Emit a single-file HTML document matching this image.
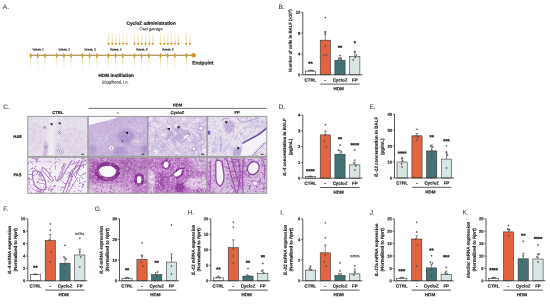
<!DOCTYPE html>
<html><head><meta charset="utf-8"><style>
html,body{margin:0;padding:0;background:#fff;}
svg{display:block;}
text{font-family:"Liberation Sans",Arial,sans-serif;}
</style></head><body>
<svg width="550" height="306" viewBox="0 0 550 306">
<rect width="550" height="306" fill="#fff"/>
<defs><linearGradient id="stemDown" x1="0" y1="0" x2="0" y2="1"><stop offset="0" stop-color="#e2bd68" stop-opacity="0.8"/><stop offset="1" stop-color="#f3e2b8" stop-opacity="0"/></linearGradient><linearGradient id="stemUp" x1="0" y1="0" x2="0" y2="1"><stop offset="0" stop-color="#efd9a0" stop-opacity="0.35"/><stop offset="1" stop-color="#e4c070" stop-opacity="0.7"/></linearGradient></defs>
<text transform="translate(2.80,8.90) rotate(0.05)" font-size="6.5" font-weight="normal" text-anchor="start" fill="#3c3c3c" stroke="#3c3c3c" stroke-width="0.08" >A.</text>
<rect x="108.05" y="33.0" width="1.1" height="10.3" fill="url(#stemUp)"/>
<path d="M107.35 43.0 L109.85 43.0 L108.60 45.4 Z" fill="#cc9a22"/>
<rect x="111.75" y="33.0" width="1.1" height="10.3" fill="url(#stemUp)"/>
<path d="M111.05 43.0 L113.55 43.0 L112.30 45.4 Z" fill="#cc9a22"/>
<rect x="115.35" y="33.0" width="1.1" height="10.3" fill="url(#stemUp)"/>
<path d="M114.65 43.0 L117.15 43.0 L115.90 45.4 Z" fill="#cc9a22"/>
<rect x="119.05" y="33.0" width="1.1" height="10.3" fill="url(#stemUp)"/>
<path d="M118.35 43.0 L120.85 43.0 L119.60 45.4 Z" fill="#cc9a22"/>
<rect x="122.65" y="33.0" width="1.1" height="10.3" fill="url(#stemUp)"/>
<path d="M121.95 43.0 L124.45 43.0 L123.20 45.4 Z" fill="#cc9a22"/>
<rect x="126.25" y="33.0" width="1.1" height="10.3" fill="url(#stemUp)"/>
<path d="M125.55 43.0 L128.05 43.0 L126.80 45.4 Z" fill="#cc9a22"/>
<rect x="133.95" y="33.0" width="1.1" height="10.3" fill="url(#stemUp)"/>
<path d="M133.25 43.0 L135.75 43.0 L134.50 45.4 Z" fill="#cc9a22"/>
<rect x="137.75" y="33.0" width="1.1" height="10.3" fill="url(#stemUp)"/>
<path d="M137.05 43.0 L139.55 43.0 L138.30 45.4 Z" fill="#cc9a22"/>
<rect x="141.25" y="33.0" width="1.1" height="10.3" fill="url(#stemUp)"/>
<path d="M140.55 43.0 L143.05 43.0 L141.80 45.4 Z" fill="#cc9a22"/>
<rect x="145.05" y="33.0" width="1.1" height="10.3" fill="url(#stemUp)"/>
<path d="M144.35 43.0 L146.85 43.0 L145.60 45.4 Z" fill="#cc9a22"/>
<rect x="148.75" y="33.0" width="1.1" height="10.3" fill="url(#stemUp)"/>
<path d="M148.05 43.0 L150.55 43.0 L149.30 45.4 Z" fill="#cc9a22"/>
<rect x="152.25" y="33.0" width="1.1" height="10.3" fill="url(#stemUp)"/>
<path d="M151.55 43.0 L154.05 43.0 L152.80 45.4 Z" fill="#cc9a22"/>
<rect x="159.95" y="33.0" width="1.1" height="10.3" fill="url(#stemUp)"/>
<path d="M159.25 43.0 L161.75 43.0 L160.50 45.4 Z" fill="#cc9a22"/>
<rect x="163.75" y="33.0" width="1.1" height="10.3" fill="url(#stemUp)"/>
<path d="M163.05 43.0 L165.55 43.0 L164.30 45.4 Z" fill="#cc9a22"/>
<rect x="167.25" y="33.0" width="1.1" height="10.3" fill="url(#stemUp)"/>
<path d="M166.55 43.0 L169.05 43.0 L167.80 45.4 Z" fill="#cc9a22"/>
<rect x="170.85" y="33.0" width="1.1" height="10.3" fill="url(#stemUp)"/>
<path d="M170.15 43.0 L172.65 43.0 L171.40 45.4 Z" fill="#cc9a22"/>
<rect x="174.35" y="33.0" width="1.1" height="10.3" fill="url(#stemUp)"/>
<path d="M173.65 43.0 L176.15 43.0 L174.90 45.4 Z" fill="#cc9a22"/>
<rect x="177.95" y="33.0" width="1.1" height="10.3" fill="url(#stemUp)"/>
<path d="M177.25 43.0 L179.75 43.0 L178.50 45.4 Z" fill="#cc9a22"/>
<rect x="185.85" y="33.0" width="1.1" height="10.3" fill="url(#stemUp)"/>
<path d="M185.15 43.0 L187.65 43.0 L186.40 45.4 Z" fill="#cc9a22"/>
<rect x="189.45" y="33.0" width="1.1" height="10.3" fill="url(#stemUp)"/>
<path d="M188.75 43.0 L191.25 43.0 L190.00 45.4 Z" fill="#cc9a22"/>
<line x1="30.5" y1="55.2" x2="193.6" y2="55.2" stroke="#987438" stroke-width="1.1"/>
<rect x="30.20" y="57.2" width="1.0" height="13.5" fill="url(#stemDown)"/>
<path d="M30.70 52.7 L31.70 55.0 L31.45 57.4 L29.95 57.4 L29.70 55.0 Z" fill="#cc9a22"/>
<rect x="37.30" y="57.2" width="1.0" height="13.5" fill="url(#stemDown)"/>
<path d="M37.80 52.7 L38.80 55.0 L38.55 57.4 L37.05 57.4 L36.80 55.0 Z" fill="#cc9a22"/>
<rect x="44.50" y="57.2" width="1.0" height="13.5" fill="url(#stemDown)"/>
<path d="M45.00 52.7 L46.00 55.0 L45.75 57.4 L44.25 57.4 L44.00 55.0 Z" fill="#cc9a22"/>
<rect x="56.20" y="57.2" width="1.0" height="13.5" fill="url(#stemDown)"/>
<path d="M56.70 52.7 L57.70 55.0 L57.45 57.4 L55.95 57.4 L55.70 55.0 Z" fill="#cc9a22"/>
<rect x="63.40" y="57.2" width="1.0" height="13.5" fill="url(#stemDown)"/>
<path d="M63.90 52.7 L64.90 55.0 L64.65 57.4 L63.15 57.4 L62.90 55.0 Z" fill="#cc9a22"/>
<rect x="70.60" y="57.2" width="1.0" height="13.5" fill="url(#stemDown)"/>
<path d="M71.10 52.7 L72.10 55.0 L71.85 57.4 L70.35 57.4 L70.10 55.0 Z" fill="#cc9a22"/>
<rect x="82.00" y="57.2" width="1.0" height="13.5" fill="url(#stemDown)"/>
<path d="M82.50 52.7 L83.50 55.0 L83.25 57.4 L81.75 57.4 L81.50 55.0 Z" fill="#cc9a22"/>
<rect x="89.20" y="57.2" width="1.0" height="13.5" fill="url(#stemDown)"/>
<path d="M89.70 52.7 L90.70 55.0 L90.45 57.4 L88.95 57.4 L88.70 55.0 Z" fill="#cc9a22"/>
<rect x="96.40" y="57.2" width="1.0" height="13.5" fill="url(#stemDown)"/>
<path d="M96.90 52.7 L97.90 55.0 L97.65 57.4 L96.15 57.4 L95.90 55.0 Z" fill="#cc9a22"/>
<rect x="107.80" y="57.2" width="1.0" height="13.5" fill="url(#stemDown)"/>
<path d="M108.30 52.7 L109.30 55.0 L109.05 57.4 L107.55 57.4 L107.30 55.0 Z" fill="#cc9a22"/>
<rect x="115.00" y="57.2" width="1.0" height="13.5" fill="url(#stemDown)"/>
<path d="M115.50 52.7 L116.50 55.0 L116.25 57.4 L114.75 57.4 L114.50 55.0 Z" fill="#cc9a22"/>
<rect x="122.20" y="57.2" width="1.0" height="13.5" fill="url(#stemDown)"/>
<path d="M122.70 52.7 L123.70 55.0 L123.45 57.4 L121.95 57.4 L121.70 55.0 Z" fill="#cc9a22"/>
<rect x="133.90" y="57.2" width="1.0" height="13.5" fill="url(#stemDown)"/>
<path d="M134.40 52.7 L135.40 55.0 L135.15 57.4 L133.65 57.4 L133.40 55.0 Z" fill="#cc9a22"/>
<rect x="141.10" y="57.2" width="1.0" height="13.5" fill="url(#stemDown)"/>
<path d="M141.60 52.7 L142.60 55.0 L142.35 57.4 L140.85 57.4 L140.60 55.0 Z" fill="#cc9a22"/>
<rect x="148.40" y="57.2" width="1.0" height="13.5" fill="url(#stemDown)"/>
<path d="M148.90 52.7 L149.90 55.0 L149.65 57.4 L148.15 57.4 L147.90 55.0 Z" fill="#cc9a22"/>
<rect x="160.00" y="57.2" width="1.0" height="13.5" fill="url(#stemDown)"/>
<path d="M160.50 52.7 L161.50 55.0 L161.25 57.4 L159.75 57.4 L159.50 55.0 Z" fill="#cc9a22"/>
<rect x="167.10" y="57.2" width="1.0" height="13.5" fill="url(#stemDown)"/>
<path d="M167.60 52.7 L168.60 55.0 L168.35 57.4 L166.85 57.4 L166.60 55.0 Z" fill="#cc9a22"/>
<rect x="174.40" y="57.2" width="1.0" height="13.5" fill="url(#stemDown)"/>
<path d="M174.90 52.7 L175.90 55.0 L175.65 57.4 L174.15 57.4 L173.90 55.0 Z" fill="#cc9a22"/>
<rect x="185.90" y="57.2" width="1.0" height="13.5" fill="url(#stemDown)"/>
<path d="M186.40 52.7 L187.40 55.0 L187.15 57.4 L185.65 57.4 L185.40 55.0 Z" fill="#cc9a22"/>
<circle cx="193.6" cy="55.2" r="2.25" fill="#c8952a"/>
<text transform="translate(38.20,50.80) rotate(0.05)" font-size="3.45" font-weight="normal" text-anchor="middle" fill="#222" stroke="#222" stroke-width="0.12" >Week 1</text>
<text transform="translate(64.20,50.80) rotate(0.05)" font-size="3.45" font-weight="normal" text-anchor="middle" fill="#222" stroke="#222" stroke-width="0.12" >Week 2</text>
<text transform="translate(90.10,50.80) rotate(0.05)" font-size="3.45" font-weight="normal" text-anchor="middle" fill="#222" stroke="#222" stroke-width="0.12" >Week 3</text>
<text transform="translate(115.80,50.80) rotate(0.05)" font-size="3.45" font-weight="normal" text-anchor="middle" fill="#222" stroke="#222" stroke-width="0.12" >Week 4</text>
<text transform="translate(141.90,50.80) rotate(0.05)" font-size="3.45" font-weight="normal" text-anchor="middle" fill="#222" stroke="#222" stroke-width="0.12" >Week 5</text>
<text transform="translate(167.90,50.80) rotate(0.05)" font-size="3.45" font-weight="normal" text-anchor="middle" fill="#222" stroke="#222" stroke-width="0.12" >Week 6</text>
<text transform="translate(151.20,24.80) rotate(0.05)" font-size="4.7" font-weight="bold" text-anchor="middle" fill="#111" stroke="#111" stroke-width="0.16" >CycloZ administration</text>
<text transform="translate(151.20,30.20) rotate(0.05)" font-size="4.25" font-weight="normal" text-anchor="middle" fill="#222" stroke="#222" stroke-width="0.08" >Oral gavage</text>
<text transform="translate(116.20,77.00) rotate(0.05)" font-size="4.7" font-weight="bold" text-anchor="middle" fill="#111" stroke="#111" stroke-width="0.16" >HDM instillation</text>
<text transform="translate(115.30,83.40) rotate(0.05)" font-size="4.0" font-weight="normal" text-anchor="middle" fill="#222" stroke="#222" stroke-width="0.08" >50μg/head, i.n.</text>
<text transform="translate(192.30,64.60) rotate(0.05)" font-size="4.9" font-weight="bold" text-anchor="start" fill="#222" stroke="#222" stroke-width="0.16" >Endpoint</text>
<text transform="translate(278.50,9.10) rotate(0.05)" font-size="6.5" font-weight="normal" text-anchor="start" fill="#3c3c3c" stroke="#3c3c3c" stroke-width="0.08" >B.</text>
<line x1="302.80" y1="12.30" x2="302.80" y2="74.80" stroke="#3a3a3a" stroke-width="0.85"/>
<line x1="301.10" y1="74.80" x2="302.80" y2="74.80" stroke="#3a3a3a" stroke-width="0.75"/>
<text transform="translate(300.40,76.30) rotate(0.05)" font-size="4.1" font-weight="bold" text-anchor="end" fill="#222" stroke="#222" stroke-width="0.16" >0</text>
<line x1="301.10" y1="53.97" x2="302.80" y2="53.97" stroke="#3a3a3a" stroke-width="0.75"/>
<text transform="translate(300.40,55.47) rotate(0.05)" font-size="4.1" font-weight="bold" text-anchor="end" fill="#222" stroke="#222" stroke-width="0.16" >4</text>
<line x1="301.10" y1="33.13" x2="302.80" y2="33.13" stroke="#3a3a3a" stroke-width="0.75"/>
<text transform="translate(300.40,34.63) rotate(0.05)" font-size="4.1" font-weight="bold" text-anchor="end" fill="#222" stroke="#222" stroke-width="0.16" >8</text>
<line x1="301.10" y1="12.30" x2="302.80" y2="12.30" stroke="#3a3a3a" stroke-width="0.75"/>
<text transform="translate(300.40,13.80) rotate(0.05)" font-size="4.1" font-weight="bold" text-anchor="end" fill="#222" stroke="#222" stroke-width="0.16" >12</text>
<rect x="305.30" y="71.10" width="10.20" height="3.70" fill="#ffffff" stroke="#2a2a2a" stroke-width="0.55"/>
<circle cx="308.90" cy="70.60" r="0.65" fill="#666" stroke="#333" stroke-width="0.35"/>
<circle cx="310.40" cy="70.30" r="0.65" fill="#666" stroke="#333" stroke-width="0.35"/>
<circle cx="311.90" cy="70.60" r="0.65" fill="#666" stroke="#333" stroke-width="0.35"/>
<circle cx="313.20" cy="70.80" r="0.65" fill="#666" stroke="#333" stroke-width="0.35"/>
<text transform="translate(310.40,65.40) rotate(0.05)" font-size="5.6" font-weight="bold" text-anchor="middle" fill="#1a1a1a" stroke="#1a1a1a" stroke-width="0.24" >**</text>
<rect x="320.20" y="40.20" width="10.20" height="34.60" fill="#e2643f" stroke="#2a2a2a" stroke-width="0.55"/>
<line x1="325.30" y1="31.60" x2="325.30" y2="40.20" stroke="#333" stroke-width="0.55"/>
<line x1="324.00" y1="31.60" x2="326.60" y2="31.60" stroke="#333" stroke-width="0.55"/>
<circle cx="325.30" cy="17.40" r="0.65" fill="#666" stroke="#333" stroke-width="0.35"/>
<circle cx="325.30" cy="32.50" r="0.65" fill="#666" stroke="#333" stroke-width="0.35"/>
<circle cx="325.30" cy="34.50" r="0.65" fill="#666" stroke="#333" stroke-width="0.35"/>
<circle cx="325.30" cy="46.00" r="0.65" fill="#666" stroke="#333" stroke-width="0.35"/>
<circle cx="324.10" cy="55.00" r="0.65" fill="#666" stroke="#333" stroke-width="0.35"/>
<circle cx="326.50" cy="55.00" r="0.65" fill="#666" stroke="#333" stroke-width="0.35"/>
<rect x="334.90" y="60.30" width="10.20" height="14.50" fill="#437375" stroke="#2a2a2a" stroke-width="0.55"/>
<line x1="340.00" y1="57.80" x2="340.00" y2="60.30" stroke="#333" stroke-width="0.55"/>
<line x1="338.70" y1="57.80" x2="341.30" y2="57.80" stroke="#333" stroke-width="0.55"/>
<circle cx="340.00" cy="55.50" r="0.65" fill="#666" stroke="#333" stroke-width="0.35"/>
<circle cx="338.50" cy="59.00" r="0.65" fill="#666" stroke="#333" stroke-width="0.35"/>
<circle cx="341.20" cy="59.00" r="0.65" fill="#666" stroke="#333" stroke-width="0.35"/>
<circle cx="340.50" cy="58.50" r="0.65" fill="#666" stroke="#333" stroke-width="0.35"/>
<text transform="translate(340.00,49.60) rotate(0.05)" font-size="5.6" font-weight="bold" text-anchor="middle" fill="#1a1a1a" stroke="#1a1a1a" stroke-width="0.24" >**</text>
<rect x="349.70" y="56.40" width="10.20" height="18.40" fill="#d7e5e5" stroke="#2a2a2a" stroke-width="0.55"/>
<line x1="354.80" y1="52.20" x2="354.80" y2="56.40" stroke="#333" stroke-width="0.55"/>
<line x1="353.50" y1="52.20" x2="356.10" y2="52.20" stroke="#333" stroke-width="0.55"/>
<circle cx="354.80" cy="51.50" r="0.65" fill="#666" stroke="#333" stroke-width="0.35"/>
<circle cx="356.30" cy="55.00" r="0.65" fill="#666" stroke="#333" stroke-width="0.35"/>
<circle cx="353.30" cy="60.00" r="0.65" fill="#666" stroke="#333" stroke-width="0.35"/>
<circle cx="355.30" cy="57.50" r="0.65" fill="#666" stroke="#333" stroke-width="0.35"/>
<text transform="translate(354.80,44.90) rotate(0.05)" font-size="5.6" font-weight="bold" text-anchor="middle" fill="#1a1a1a" stroke="#1a1a1a" stroke-width="0.24" >*</text>
<line x1="302.80" y1="74.80" x2="362.30" y2="74.80" stroke="#3a3a3a" stroke-width="0.85"/>
<text transform="translate(310.40,81.40) rotate(0.05)" font-size="4.4" font-weight="bold" text-anchor="middle" fill="#222" stroke="#222" stroke-width="0.16" >CTRL</text>
<text transform="translate(325.30,81.40) rotate(0.05)" font-size="4.4" font-weight="bold" text-anchor="middle" fill="#222" stroke="#222" stroke-width="0.16" >-</text>
<text transform="translate(340.00,81.40) rotate(0.05)" font-size="4.4" font-weight="bold" text-anchor="middle" fill="#222" stroke="#222" stroke-width="0.16" >CycloZ</text>
<text transform="translate(354.80,81.40) rotate(0.05)" font-size="4.4" font-weight="bold" text-anchor="middle" fill="#222" stroke="#222" stroke-width="0.16" >FP</text>
<line x1="320.20" y1="84.10" x2="359.60" y2="84.10" stroke="#222" stroke-width="0.75"/>
<text transform="translate(338.60,90.30) rotate(0.05)" font-size="4.55" font-weight="bold" text-anchor="middle" fill="#222" stroke="#222" stroke-width="0.16" >HDM</text>
<text transform="translate(291.79,40.60) rotate(-89.95)" font-size="4.3" font-weight="bold" text-anchor="middle" fill="#222" stroke="#222" stroke-width="0.14">Number of cells in BALF (x10<tspan font-size="2.9" dy="-1.5">5</tspan><tspan dy="1.5">)</tspan></text>
<text transform="translate(278.50,109.10) rotate(0.05)" font-size="6.5" font-weight="normal" text-anchor="start" fill="#3c3c3c" stroke="#3c3c3c" stroke-width="0.08" >D.</text>
<line x1="302.80" y1="115.00" x2="302.80" y2="178.20" stroke="#3a3a3a" stroke-width="0.85"/>
<line x1="301.10" y1="178.20" x2="302.80" y2="178.20" stroke="#3a3a3a" stroke-width="0.75"/>
<text transform="translate(300.40,179.70) rotate(0.05)" font-size="4.1" font-weight="bold" text-anchor="end" fill="#222" stroke="#222" stroke-width="0.16" >0</text>
<line x1="301.10" y1="162.40" x2="302.80" y2="162.40" stroke="#3a3a3a" stroke-width="0.75"/>
<text transform="translate(300.40,163.90) rotate(0.05)" font-size="4.1" font-weight="bold" text-anchor="end" fill="#222" stroke="#222" stroke-width="0.16" >1</text>
<line x1="301.10" y1="146.60" x2="302.80" y2="146.60" stroke="#3a3a3a" stroke-width="0.75"/>
<text transform="translate(300.40,148.10) rotate(0.05)" font-size="4.1" font-weight="bold" text-anchor="end" fill="#222" stroke="#222" stroke-width="0.16" >2</text>
<line x1="301.10" y1="130.80" x2="302.80" y2="130.80" stroke="#3a3a3a" stroke-width="0.75"/>
<text transform="translate(300.40,132.30) rotate(0.05)" font-size="4.1" font-weight="bold" text-anchor="end" fill="#222" stroke="#222" stroke-width="0.16" >3</text>
<line x1="301.10" y1="115.00" x2="302.80" y2="115.00" stroke="#3a3a3a" stroke-width="0.75"/>
<text transform="translate(300.40,116.50) rotate(0.05)" font-size="4.1" font-weight="bold" text-anchor="end" fill="#222" stroke="#222" stroke-width="0.16" >4</text>
<rect x="305.30" y="176.40" width="10.20" height="1.80" fill="#ffffff" stroke="#2a2a2a" stroke-width="0.55"/>
<circle cx="308.90" cy="176.60" r="0.65" fill="#666" stroke="#333" stroke-width="0.35"/>
<circle cx="310.40" cy="176.30" r="0.65" fill="#666" stroke="#333" stroke-width="0.35"/>
<circle cx="311.90" cy="176.60" r="0.65" fill="#666" stroke="#333" stroke-width="0.35"/>
<text transform="translate(310.40,173.10) rotate(0.05)" font-size="5.6" font-weight="bold" text-anchor="middle" fill="#1a1a1a" stroke="#1a1a1a" stroke-width="0.24" >****</text>
<rect x="320.20" y="134.90" width="10.20" height="43.30" fill="#e2643f" stroke="#2a2a2a" stroke-width="0.55"/>
<line x1="325.30" y1="130.90" x2="325.30" y2="134.90" stroke="#333" stroke-width="0.55"/>
<line x1="324.00" y1="130.90" x2="326.60" y2="130.90" stroke="#333" stroke-width="0.55"/>
<circle cx="325.30" cy="124.70" r="0.65" fill="#666" stroke="#333" stroke-width="0.35"/>
<circle cx="325.30" cy="135.00" r="0.65" fill="#666" stroke="#333" stroke-width="0.35"/>
<circle cx="324.30" cy="141.00" r="0.65" fill="#666" stroke="#333" stroke-width="0.35"/>
<circle cx="326.30" cy="147.00" r="0.65" fill="#666" stroke="#333" stroke-width="0.35"/>
<rect x="334.90" y="154.20" width="10.20" height="24.00" fill="#437375" stroke="#2a2a2a" stroke-width="0.55"/>
<line x1="340.00" y1="150.50" x2="340.00" y2="154.20" stroke="#333" stroke-width="0.55"/>
<line x1="338.70" y1="150.50" x2="341.30" y2="150.50" stroke="#333" stroke-width="0.55"/>
<circle cx="340.00" cy="145.00" r="0.65" fill="#666" stroke="#333" stroke-width="0.35"/>
<circle cx="338.50" cy="150.00" r="0.65" fill="#666" stroke="#333" stroke-width="0.35"/>
<circle cx="341.50" cy="152.00" r="0.65" fill="#666" stroke="#333" stroke-width="0.35"/>
<circle cx="340.50" cy="160.00" r="0.65" fill="#666" stroke="#333" stroke-width="0.35"/>
<text transform="translate(340.00,141.10) rotate(0.05)" font-size="5.6" font-weight="bold" text-anchor="middle" fill="#1a1a1a" stroke="#1a1a1a" stroke-width="0.24" >**</text>
<rect x="349.70" y="164.90" width="10.20" height="13.30" fill="#d7e5e5" stroke="#2a2a2a" stroke-width="0.55"/>
<line x1="354.80" y1="160.00" x2="354.80" y2="164.90" stroke="#333" stroke-width="0.55"/>
<line x1="353.50" y1="160.00" x2="356.10" y2="160.00" stroke="#333" stroke-width="0.55"/>
<circle cx="354.80" cy="150.00" r="0.65" fill="#666" stroke="#333" stroke-width="0.35"/>
<circle cx="353.80" cy="163.00" r="0.65" fill="#666" stroke="#333" stroke-width="0.35"/>
<circle cx="355.80" cy="166.00" r="0.65" fill="#666" stroke="#333" stroke-width="0.35"/>
<circle cx="354.80" cy="170.00" r="0.65" fill="#666" stroke="#333" stroke-width="0.35"/>
<text transform="translate(354.80,147.10) rotate(0.05)" font-size="5.6" font-weight="bold" text-anchor="middle" fill="#1a1a1a" stroke="#1a1a1a" stroke-width="0.24" >****</text>
<line x1="302.80" y1="178.20" x2="362.30" y2="178.20" stroke="#3a3a3a" stroke-width="0.85"/>
<text transform="translate(310.40,184.80) rotate(0.05)" font-size="4.4" font-weight="bold" text-anchor="middle" fill="#222" stroke="#222" stroke-width="0.16" >CTRL</text>
<text transform="translate(325.30,184.80) rotate(0.05)" font-size="4.4" font-weight="bold" text-anchor="middle" fill="#222" stroke="#222" stroke-width="0.16" >-</text>
<text transform="translate(340.00,184.80) rotate(0.05)" font-size="4.4" font-weight="bold" text-anchor="middle" fill="#222" stroke="#222" stroke-width="0.16" >CycloZ</text>
<text transform="translate(354.80,184.80) rotate(0.05)" font-size="4.4" font-weight="bold" text-anchor="middle" fill="#222" stroke="#222" stroke-width="0.16" >FP</text>
<line x1="320.20" y1="187.50" x2="359.60" y2="187.50" stroke="#222" stroke-width="0.75"/>
<text transform="translate(338.60,193.70) rotate(0.05)" font-size="4.55" font-weight="bold" text-anchor="middle" fill="#222" stroke="#222" stroke-width="0.16" >HDM</text>
<text transform="translate(285.95,146.90) rotate(-89.95)" font-size="4.5" font-weight="bold" text-anchor="middle" fill="#222" stroke="#222" stroke-width="0.14"><tspan font-style="italic">IL-4</tspan> concentration in BALF</text>
<text transform="translate(291.95,146.90) rotate(-89.95)" font-size="4.5" font-weight="bold" text-anchor="middle" fill="#222" stroke="#222" stroke-width="0.14">(pg/mL)</text>
<text transform="translate(369.40,109.10) rotate(0.05)" font-size="6.5" font-weight="normal" text-anchor="start" fill="#3c3c3c" stroke="#3c3c3c" stroke-width="0.08" >E.</text>
<line x1="394.50" y1="114.30" x2="394.50" y2="178.00" stroke="#3a3a3a" stroke-width="0.85"/>
<line x1="392.80" y1="178.00" x2="394.50" y2="178.00" stroke="#3a3a3a" stroke-width="0.75"/>
<text transform="translate(392.10,179.50) rotate(0.05)" font-size="4.1" font-weight="bold" text-anchor="end" fill="#222" stroke="#222" stroke-width="0.16" >0</text>
<line x1="392.80" y1="162.07" x2="394.50" y2="162.07" stroke="#3a3a3a" stroke-width="0.75"/>
<text transform="translate(392.10,163.57) rotate(0.05)" font-size="4.1" font-weight="bold" text-anchor="end" fill="#222" stroke="#222" stroke-width="0.16" >10</text>
<line x1="392.80" y1="146.15" x2="394.50" y2="146.15" stroke="#3a3a3a" stroke-width="0.75"/>
<text transform="translate(392.10,147.65) rotate(0.05)" font-size="4.1" font-weight="bold" text-anchor="end" fill="#222" stroke="#222" stroke-width="0.16" >20</text>
<line x1="392.80" y1="130.22" x2="394.50" y2="130.22" stroke="#3a3a3a" stroke-width="0.75"/>
<text transform="translate(392.10,131.72) rotate(0.05)" font-size="4.1" font-weight="bold" text-anchor="end" fill="#222" stroke="#222" stroke-width="0.16" >30</text>
<line x1="392.80" y1="114.30" x2="394.50" y2="114.30" stroke="#3a3a3a" stroke-width="0.75"/>
<text transform="translate(392.10,115.80) rotate(0.05)" font-size="4.1" font-weight="bold" text-anchor="end" fill="#222" stroke="#222" stroke-width="0.16" >40</text>
<rect x="397.00" y="162.00" width="10.20" height="16.00" fill="#d7e5e5" stroke="#2a2a2a" stroke-width="0.55"/>
<line x1="402.10" y1="158.70" x2="402.10" y2="162.00" stroke="#333" stroke-width="0.55"/>
<line x1="400.80" y1="158.70" x2="403.40" y2="158.70" stroke="#333" stroke-width="0.55"/>
<circle cx="402.10" cy="158.00" r="0.65" fill="#666" stroke="#333" stroke-width="0.35"/>
<circle cx="402.60" cy="161.00" r="0.65" fill="#666" stroke="#333" stroke-width="0.35"/>
<circle cx="401.60" cy="164.00" r="0.65" fill="#666" stroke="#333" stroke-width="0.35"/>
<circle cx="402.10" cy="167.00" r="0.65" fill="#666" stroke="#333" stroke-width="0.35"/>
<text transform="translate(402.10,155.30) rotate(0.05)" font-size="5.6" font-weight="bold" text-anchor="middle" fill="#1a1a1a" stroke="#1a1a1a" stroke-width="0.24" >****</text>
<rect x="411.90" y="135.80" width="10.20" height="42.20" fill="#e2643f" stroke="#2a2a2a" stroke-width="0.55"/>
<line x1="417.00" y1="133.50" x2="417.00" y2="135.80" stroke="#333" stroke-width="0.55"/>
<line x1="415.70" y1="133.50" x2="418.30" y2="133.50" stroke="#333" stroke-width="0.55"/>
<circle cx="417.00" cy="129.30" r="0.65" fill="#666" stroke="#333" stroke-width="0.35"/>
<circle cx="416.00" cy="136.00" r="0.65" fill="#666" stroke="#333" stroke-width="0.35"/>
<circle cx="418.00" cy="137.00" r="0.65" fill="#666" stroke="#333" stroke-width="0.35"/>
<circle cx="417.00" cy="140.00" r="0.65" fill="#666" stroke="#333" stroke-width="0.35"/>
<rect x="426.60" y="150.90" width="10.20" height="27.10" fill="#437375" stroke="#2a2a2a" stroke-width="0.55"/>
<line x1="431.70" y1="145.00" x2="431.70" y2="150.90" stroke="#333" stroke-width="0.55"/>
<line x1="430.40" y1="145.00" x2="433.00" y2="145.00" stroke="#333" stroke-width="0.55"/>
<circle cx="430.70" cy="146.00" r="0.65" fill="#666" stroke="#333" stroke-width="0.35"/>
<circle cx="432.70" cy="147.00" r="0.65" fill="#666" stroke="#333" stroke-width="0.35"/>
<circle cx="431.70" cy="150.00" r="0.65" fill="#666" stroke="#333" stroke-width="0.35"/>
<circle cx="431.70" cy="157.00" r="0.65" fill="#666" stroke="#333" stroke-width="0.35"/>
<text transform="translate(431.70,138.90) rotate(0.05)" font-size="5.6" font-weight="bold" text-anchor="middle" fill="#1a1a1a" stroke="#1a1a1a" stroke-width="0.24" >**</text>
<rect x="441.40" y="159.10" width="10.20" height="18.90" fill="#d7e5e5" stroke="#2a2a2a" stroke-width="0.55"/>
<line x1="446.50" y1="153.00" x2="446.50" y2="159.10" stroke="#333" stroke-width="0.55"/>
<line x1="445.20" y1="153.00" x2="447.80" y2="153.00" stroke="#333" stroke-width="0.55"/>
<circle cx="446.50" cy="145.80" r="0.65" fill="#666" stroke="#333" stroke-width="0.35"/>
<circle cx="446.50" cy="152.00" r="0.65" fill="#666" stroke="#333" stroke-width="0.35"/>
<circle cx="447.50" cy="155.00" r="0.65" fill="#666" stroke="#333" stroke-width="0.35"/>
<circle cx="446.50" cy="168.00" r="0.65" fill="#666" stroke="#333" stroke-width="0.35"/>
<text transform="translate(446.50,143.10) rotate(0.05)" font-size="5.6" font-weight="bold" text-anchor="middle" fill="#1a1a1a" stroke="#1a1a1a" stroke-width="0.24" >***</text>
<line x1="394.50" y1="178.00" x2="454.00" y2="178.00" stroke="#3a3a3a" stroke-width="0.85"/>
<text transform="translate(402.10,184.60) rotate(0.05)" font-size="4.4" font-weight="bold" text-anchor="middle" fill="#222" stroke="#222" stroke-width="0.16" >CTRL</text>
<text transform="translate(417.00,184.60) rotate(0.05)" font-size="4.4" font-weight="bold" text-anchor="middle" fill="#222" stroke="#222" stroke-width="0.16" >-</text>
<text transform="translate(431.70,184.60) rotate(0.05)" font-size="4.4" font-weight="bold" text-anchor="middle" fill="#222" stroke="#222" stroke-width="0.16" >CycloZ</text>
<text transform="translate(446.50,184.60) rotate(0.05)" font-size="4.4" font-weight="bold" text-anchor="middle" fill="#222" stroke="#222" stroke-width="0.16" >FP</text>
<line x1="411.90" y1="187.30" x2="451.30" y2="187.30" stroke="#222" stroke-width="0.75"/>
<text transform="translate(430.30,193.50) rotate(0.05)" font-size="4.55" font-weight="bold" text-anchor="middle" fill="#222" stroke="#222" stroke-width="0.16" >HDM</text>
<text transform="translate(377.65,146.80) rotate(-89.95)" font-size="4.5" font-weight="bold" text-anchor="middle" fill="#222" stroke="#222" stroke-width="0.14"><tspan font-style="italic">IL-13</tspan> concentration in BALF</text>
<text transform="translate(383.65,146.80) rotate(-89.95)" font-size="4.5" font-weight="bold" text-anchor="middle" fill="#222" stroke="#222" stroke-width="0.14">(pg/mL)</text>
<text transform="translate(3.20,211.10) rotate(0.05)" font-size="6.5" font-weight="normal" text-anchor="start" fill="#3c3c3c" stroke="#3c3c3c" stroke-width="0.08" >F.</text>
<line x1="27.80" y1="218.80" x2="27.80" y2="280.80" stroke="#3a3a3a" stroke-width="0.85"/>
<line x1="26.10" y1="280.80" x2="27.80" y2="280.80" stroke="#3a3a3a" stroke-width="0.75"/>
<text transform="translate(25.40,282.30) rotate(0.05)" font-size="4.1" font-weight="bold" text-anchor="end" fill="#222" stroke="#222" stroke-width="0.16" >0</text>
<line x1="26.10" y1="268.40" x2="27.80" y2="268.40" stroke="#3a3a3a" stroke-width="0.75"/>
<text transform="translate(25.40,269.90) rotate(0.05)" font-size="4.1" font-weight="bold" text-anchor="end" fill="#222" stroke="#222" stroke-width="0.16" >2</text>
<line x1="26.10" y1="256.00" x2="27.80" y2="256.00" stroke="#3a3a3a" stroke-width="0.75"/>
<text transform="translate(25.40,257.50) rotate(0.05)" font-size="4.1" font-weight="bold" text-anchor="end" fill="#222" stroke="#222" stroke-width="0.16" >4</text>
<line x1="26.10" y1="243.60" x2="27.80" y2="243.60" stroke="#3a3a3a" stroke-width="0.75"/>
<text transform="translate(25.40,245.10) rotate(0.05)" font-size="4.1" font-weight="bold" text-anchor="end" fill="#222" stroke="#222" stroke-width="0.16" >6</text>
<line x1="26.10" y1="231.20" x2="27.80" y2="231.20" stroke="#3a3a3a" stroke-width="0.75"/>
<text transform="translate(25.40,232.70) rotate(0.05)" font-size="4.1" font-weight="bold" text-anchor="end" fill="#222" stroke="#222" stroke-width="0.16" >8</text>
<line x1="26.10" y1="218.80" x2="27.80" y2="218.80" stroke="#3a3a3a" stroke-width="0.75"/>
<text transform="translate(25.40,220.30) rotate(0.05)" font-size="4.1" font-weight="bold" text-anchor="end" fill="#222" stroke="#222" stroke-width="0.16" >10</text>
<rect x="30.30" y="274.60" width="10.20" height="6.20" fill="#ffffff" stroke="#2a2a2a" stroke-width="0.55"/>
<circle cx="33.90" cy="274.40" r="0.65" fill="#666" stroke="#333" stroke-width="0.35"/>
<circle cx="35.40" cy="274.10" r="0.65" fill="#666" stroke="#333" stroke-width="0.35"/>
<circle cx="36.90" cy="274.40" r="0.65" fill="#666" stroke="#333" stroke-width="0.35"/>
<text transform="translate(35.40,269.50) rotate(0.05)" font-size="5.6" font-weight="bold" text-anchor="middle" fill="#1a1a1a" stroke="#1a1a1a" stroke-width="0.24" >**</text>
<rect x="45.20" y="240.60" width="10.20" height="40.20" fill="#e2643f" stroke="#2a2a2a" stroke-width="0.55"/>
<line x1="50.30" y1="234.60" x2="50.30" y2="240.60" stroke="#333" stroke-width="0.55"/>
<line x1="49.00" y1="234.60" x2="51.60" y2="234.60" stroke="#333" stroke-width="0.55"/>
<circle cx="50.30" cy="223.90" r="0.65" fill="#666" stroke="#333" stroke-width="0.35"/>
<circle cx="50.30" cy="230.00" r="0.65" fill="#666" stroke="#333" stroke-width="0.35"/>
<circle cx="49.30" cy="240.00" r="0.65" fill="#666" stroke="#333" stroke-width="0.35"/>
<circle cx="51.30" cy="252.00" r="0.65" fill="#666" stroke="#333" stroke-width="0.35"/>
<circle cx="50.30" cy="262.00" r="0.65" fill="#666" stroke="#333" stroke-width="0.35"/>
<rect x="59.90" y="263.20" width="10.20" height="17.60" fill="#437375" stroke="#2a2a2a" stroke-width="0.55"/>
<line x1="65.00" y1="258.00" x2="65.00" y2="263.20" stroke="#333" stroke-width="0.55"/>
<line x1="63.70" y1="258.00" x2="66.30" y2="258.00" stroke="#333" stroke-width="0.55"/>
<circle cx="65.00" cy="245.40" r="0.65" fill="#666" stroke="#333" stroke-width="0.35"/>
<circle cx="64.00" cy="257.00" r="0.65" fill="#666" stroke="#333" stroke-width="0.35"/>
<circle cx="66.00" cy="259.00" r="0.65" fill="#666" stroke="#333" stroke-width="0.35"/>
<circle cx="65.00" cy="265.00" r="0.65" fill="#666" stroke="#333" stroke-width="0.35"/>
<circle cx="64.50" cy="272.00" r="0.65" fill="#666" stroke="#333" stroke-width="0.35"/>
<rect x="74.70" y="255.00" width="10.20" height="25.80" fill="#d7e5e5" stroke="#2a2a2a" stroke-width="0.55"/>
<line x1="79.80" y1="249.00" x2="79.80" y2="255.00" stroke="#333" stroke-width="0.55"/>
<line x1="78.50" y1="249.00" x2="81.10" y2="249.00" stroke="#333" stroke-width="0.55"/>
<circle cx="79.80" cy="238.30" r="0.65" fill="#666" stroke="#333" stroke-width="0.35"/>
<circle cx="79.80" cy="252.00" r="0.65" fill="#666" stroke="#333" stroke-width="0.35"/>
<circle cx="80.80" cy="257.00" r="0.65" fill="#666" stroke="#333" stroke-width="0.35"/>
<circle cx="79.80" cy="267.00" r="0.65" fill="#666" stroke="#333" stroke-width="0.35"/>
<text transform="translate(79.80,235.10) rotate(0.05)" font-size="3.15" font-weight="normal" text-anchor="middle" fill="#1a1a1a" stroke="#1a1a1a" stroke-width="0.12" >0.0761</text>
<line x1="27.80" y1="280.80" x2="87.30" y2="280.80" stroke="#3a3a3a" stroke-width="0.85"/>
<text transform="translate(35.40,287.40) rotate(0.05)" font-size="4.4" font-weight="bold" text-anchor="middle" fill="#222" stroke="#222" stroke-width="0.16" >CTRL</text>
<text transform="translate(50.30,287.40) rotate(0.05)" font-size="4.4" font-weight="bold" text-anchor="middle" fill="#222" stroke="#222" stroke-width="0.16" >-</text>
<text transform="translate(65.00,287.40) rotate(0.05)" font-size="4.4" font-weight="bold" text-anchor="middle" fill="#222" stroke="#222" stroke-width="0.16" >CycloZ</text>
<text transform="translate(79.80,287.40) rotate(0.05)" font-size="4.4" font-weight="bold" text-anchor="middle" fill="#222" stroke="#222" stroke-width="0.16" >FP</text>
<line x1="45.20" y1="290.10" x2="84.60" y2="290.10" stroke="#222" stroke-width="0.75"/>
<text transform="translate(63.60,296.30) rotate(0.05)" font-size="4.55" font-weight="bold" text-anchor="middle" fill="#222" stroke="#222" stroke-width="0.16" >HDM</text>
<text transform="translate(10.95,249.80) rotate(-89.95)" font-size="4.5" font-weight="bold" text-anchor="middle" fill="#222" stroke="#222" stroke-width="0.14"><tspan font-style="italic">IL-4</tspan> mRNA expression</text>
<text transform="translate(16.95,249.80) rotate(-89.95)" font-size="4.5" font-weight="bold" text-anchor="middle" fill="#222" stroke="#222" stroke-width="0.14">(Normalized to <tspan font-style="italic">Hprt</tspan>)</text>
<text transform="translate(94.80,211.10) rotate(0.05)" font-size="6.5" font-weight="normal" text-anchor="start" fill="#3c3c3c" stroke="#3c3c3c" stroke-width="0.08" >G.</text>
<line x1="119.50" y1="218.80" x2="119.50" y2="280.80" stroke="#3a3a3a" stroke-width="0.85"/>
<line x1="117.80" y1="280.80" x2="119.50" y2="280.80" stroke="#3a3a3a" stroke-width="0.75"/>
<text transform="translate(117.10,282.30) rotate(0.05)" font-size="4.1" font-weight="bold" text-anchor="end" fill="#222" stroke="#222" stroke-width="0.16" >0</text>
<line x1="117.80" y1="260.13" x2="119.50" y2="260.13" stroke="#3a3a3a" stroke-width="0.75"/>
<text transform="translate(117.10,261.63) rotate(0.05)" font-size="4.1" font-weight="bold" text-anchor="end" fill="#222" stroke="#222" stroke-width="0.16" >10</text>
<line x1="117.80" y1="239.47" x2="119.50" y2="239.47" stroke="#3a3a3a" stroke-width="0.75"/>
<text transform="translate(117.10,240.97) rotate(0.05)" font-size="4.1" font-weight="bold" text-anchor="end" fill="#222" stroke="#222" stroke-width="0.16" >20</text>
<line x1="117.80" y1="218.80" x2="119.50" y2="218.80" stroke="#3a3a3a" stroke-width="0.75"/>
<text transform="translate(117.10,220.30) rotate(0.05)" font-size="4.1" font-weight="bold" text-anchor="end" fill="#222" stroke="#222" stroke-width="0.16" >30</text>
<rect x="122.00" y="278.30" width="10.20" height="2.50" fill="#ffffff" stroke="#2a2a2a" stroke-width="0.55"/>
<circle cx="125.60" cy="278.00" r="0.65" fill="#666" stroke="#333" stroke-width="0.35"/>
<circle cx="127.10" cy="277.50" r="0.65" fill="#666" stroke="#333" stroke-width="0.35"/>
<circle cx="128.60" cy="278.00" r="0.65" fill="#666" stroke="#333" stroke-width="0.35"/>
<text transform="translate(127.10,271.90) rotate(0.05)" font-size="5.6" font-weight="bold" text-anchor="middle" fill="#1a1a1a" stroke="#1a1a1a" stroke-width="0.24" >**</text>
<rect x="136.90" y="259.40" width="10.20" height="21.40" fill="#e2643f" stroke="#2a2a2a" stroke-width="0.55"/>
<line x1="142.00" y1="255.00" x2="142.00" y2="259.40" stroke="#333" stroke-width="0.55"/>
<line x1="140.70" y1="255.00" x2="143.30" y2="255.00" stroke="#333" stroke-width="0.55"/>
<circle cx="142.00" cy="242.80" r="0.65" fill="#666" stroke="#333" stroke-width="0.35"/>
<circle cx="142.00" cy="256.00" r="0.65" fill="#666" stroke="#333" stroke-width="0.35"/>
<circle cx="141.00" cy="262.00" r="0.65" fill="#666" stroke="#333" stroke-width="0.35"/>
<circle cx="143.00" cy="266.00" r="0.65" fill="#666" stroke="#333" stroke-width="0.35"/>
<rect x="151.60" y="274.60" width="10.20" height="6.20" fill="#437375" stroke="#2a2a2a" stroke-width="0.55"/>
<circle cx="155.70" cy="273.00" r="0.65" fill="#666" stroke="#333" stroke-width="0.35"/>
<circle cx="157.70" cy="272.00" r="0.65" fill="#666" stroke="#333" stroke-width="0.35"/>
<circle cx="156.70" cy="276.00" r="0.65" fill="#666" stroke="#333" stroke-width="0.35"/>
<text transform="translate(156.70,264.60) rotate(0.05)" font-size="5.6" font-weight="bold" text-anchor="middle" fill="#1a1a1a" stroke="#1a1a1a" stroke-width="0.24" >**</text>
<rect x="166.40" y="262.10" width="10.20" height="18.70" fill="#d7e5e5" stroke="#2a2a2a" stroke-width="0.55"/>
<line x1="171.50" y1="253.90" x2="171.50" y2="262.10" stroke="#333" stroke-width="0.55"/>
<line x1="170.20" y1="253.90" x2="172.80" y2="253.90" stroke="#333" stroke-width="0.55"/>
<circle cx="171.50" cy="225.00" r="0.65" fill="#666" stroke="#333" stroke-width="0.35"/>
<circle cx="171.50" cy="258.00" r="0.65" fill="#666" stroke="#333" stroke-width="0.35"/>
<circle cx="171.50" cy="266.00" r="0.65" fill="#666" stroke="#333" stroke-width="0.35"/>
<circle cx="171.50" cy="274.00" r="0.65" fill="#666" stroke="#333" stroke-width="0.35"/>
<line x1="119.50" y1="280.80" x2="179.00" y2="280.80" stroke="#3a3a3a" stroke-width="0.85"/>
<text transform="translate(127.10,287.40) rotate(0.05)" font-size="4.4" font-weight="bold" text-anchor="middle" fill="#222" stroke="#222" stroke-width="0.16" >CTRL</text>
<text transform="translate(142.00,287.40) rotate(0.05)" font-size="4.4" font-weight="bold" text-anchor="middle" fill="#222" stroke="#222" stroke-width="0.16" >-</text>
<text transform="translate(156.70,287.40) rotate(0.05)" font-size="4.4" font-weight="bold" text-anchor="middle" fill="#222" stroke="#222" stroke-width="0.16" >CycloZ</text>
<text transform="translate(171.50,287.40) rotate(0.05)" font-size="4.4" font-weight="bold" text-anchor="middle" fill="#222" stroke="#222" stroke-width="0.16" >FP</text>
<line x1="136.90" y1="290.10" x2="176.30" y2="290.10" stroke="#222" stroke-width="0.75"/>
<text transform="translate(155.30,296.30) rotate(0.05)" font-size="4.55" font-weight="bold" text-anchor="middle" fill="#222" stroke="#222" stroke-width="0.16" >HDM</text>
<text transform="translate(102.65,249.80) rotate(-89.95)" font-size="4.5" font-weight="bold" text-anchor="middle" fill="#222" stroke="#222" stroke-width="0.14"><tspan font-style="italic">IL-5</tspan> mRNA expression</text>
<text transform="translate(108.65,249.80) rotate(-89.95)" font-size="4.5" font-weight="bold" text-anchor="middle" fill="#222" stroke="#222" stroke-width="0.14">(Normalized to <tspan font-style="italic">Hprt</tspan>)</text>
<text transform="translate(187.50,214.50) rotate(0.05)" font-size="6.5" font-weight="normal" text-anchor="start" fill="#3c3c3c" stroke="#3c3c3c" stroke-width="0.08" >H.</text>
<line x1="210.80" y1="218.80" x2="210.80" y2="280.80" stroke="#3a3a3a" stroke-width="0.85"/>
<line x1="209.10" y1="280.80" x2="210.80" y2="280.80" stroke="#3a3a3a" stroke-width="0.75"/>
<text transform="translate(208.40,282.30) rotate(0.05)" font-size="4.1" font-weight="bold" text-anchor="end" fill="#222" stroke="#222" stroke-width="0.16" >0</text>
<line x1="209.10" y1="265.30" x2="210.80" y2="265.30" stroke="#3a3a3a" stroke-width="0.75"/>
<text transform="translate(208.40,266.80) rotate(0.05)" font-size="4.1" font-weight="bold" text-anchor="end" fill="#222" stroke="#222" stroke-width="0.16" >5</text>
<line x1="209.10" y1="249.80" x2="210.80" y2="249.80" stroke="#3a3a3a" stroke-width="0.75"/>
<text transform="translate(208.40,251.30) rotate(0.05)" font-size="4.1" font-weight="bold" text-anchor="end" fill="#222" stroke="#222" stroke-width="0.16" >10</text>
<line x1="209.10" y1="234.30" x2="210.80" y2="234.30" stroke="#3a3a3a" stroke-width="0.75"/>
<text transform="translate(208.40,235.80) rotate(0.05)" font-size="4.1" font-weight="bold" text-anchor="end" fill="#222" stroke="#222" stroke-width="0.16" >15</text>
<line x1="209.10" y1="218.80" x2="210.80" y2="218.80" stroke="#3a3a3a" stroke-width="0.75"/>
<text transform="translate(208.40,220.30) rotate(0.05)" font-size="4.1" font-weight="bold" text-anchor="end" fill="#222" stroke="#222" stroke-width="0.16" >20</text>
<rect x="213.30" y="277.90" width="10.20" height="2.90" fill="#ffffff" stroke="#2a2a2a" stroke-width="0.55"/>
<circle cx="216.90" cy="277.50" r="0.65" fill="#666" stroke="#333" stroke-width="0.35"/>
<circle cx="218.40" cy="276.50" r="0.65" fill="#666" stroke="#333" stroke-width="0.35"/>
<circle cx="219.90" cy="277.50" r="0.65" fill="#666" stroke="#333" stroke-width="0.35"/>
<text transform="translate(218.40,271.20) rotate(0.05)" font-size="5.6" font-weight="bold" text-anchor="middle" fill="#1a1a1a" stroke="#1a1a1a" stroke-width="0.24" >**</text>
<rect x="228.20" y="247.70" width="10.20" height="33.10" fill="#e2643f" stroke="#2a2a2a" stroke-width="0.55"/>
<line x1="233.30" y1="239.90" x2="233.30" y2="247.70" stroke="#333" stroke-width="0.55"/>
<line x1="232.00" y1="239.90" x2="234.60" y2="239.90" stroke="#333" stroke-width="0.55"/>
<circle cx="233.30" cy="222.30" r="0.65" fill="#666" stroke="#333" stroke-width="0.35"/>
<circle cx="233.30" cy="227.20" r="0.65" fill="#666" stroke="#333" stroke-width="0.35"/>
<circle cx="233.30" cy="249.00" r="0.65" fill="#666" stroke="#333" stroke-width="0.35"/>
<circle cx="233.30" cy="256.00" r="0.65" fill="#666" stroke="#333" stroke-width="0.35"/>
<circle cx="233.30" cy="263.00" r="0.65" fill="#666" stroke="#333" stroke-width="0.35"/>
<rect x="242.90" y="276.10" width="10.20" height="4.70" fill="#437375" stroke="#2a2a2a" stroke-width="0.55"/>
<circle cx="248.00" cy="268.50" r="0.65" fill="#666" stroke="#333" stroke-width="0.35"/>
<circle cx="247.00" cy="275.00" r="0.65" fill="#666" stroke="#333" stroke-width="0.35"/>
<circle cx="249.00" cy="276.00" r="0.65" fill="#666" stroke="#333" stroke-width="0.35"/>
<text transform="translate(248.00,264.60) rotate(0.05)" font-size="5.6" font-weight="bold" text-anchor="middle" fill="#1a1a1a" stroke="#1a1a1a" stroke-width="0.24" >**</text>
<rect x="257.70" y="273.40" width="10.20" height="7.40" fill="#d7e5e5" stroke="#2a2a2a" stroke-width="0.55"/>
<line x1="262.80" y1="270.00" x2="262.80" y2="273.40" stroke="#333" stroke-width="0.55"/>
<line x1="261.50" y1="270.00" x2="264.10" y2="270.00" stroke="#333" stroke-width="0.55"/>
<circle cx="262.80" cy="263.50" r="0.65" fill="#666" stroke="#333" stroke-width="0.35"/>
<circle cx="261.80" cy="271.00" r="0.65" fill="#666" stroke="#333" stroke-width="0.35"/>
<circle cx="263.80" cy="273.00" r="0.65" fill="#666" stroke="#333" stroke-width="0.35"/>
<text transform="translate(262.80,259.00) rotate(0.05)" font-size="5.6" font-weight="bold" text-anchor="middle" fill="#1a1a1a" stroke="#1a1a1a" stroke-width="0.24" >**</text>
<line x1="210.80" y1="280.80" x2="270.30" y2="280.80" stroke="#3a3a3a" stroke-width="0.85"/>
<text transform="translate(218.40,287.40) rotate(0.05)" font-size="4.4" font-weight="bold" text-anchor="middle" fill="#222" stroke="#222" stroke-width="0.16" >CTRL</text>
<text transform="translate(233.30,287.40) rotate(0.05)" font-size="4.4" font-weight="bold" text-anchor="middle" fill="#222" stroke="#222" stroke-width="0.16" >-</text>
<text transform="translate(248.00,287.40) rotate(0.05)" font-size="4.4" font-weight="bold" text-anchor="middle" fill="#222" stroke="#222" stroke-width="0.16" >CycloZ</text>
<text transform="translate(262.80,287.40) rotate(0.05)" font-size="4.4" font-weight="bold" text-anchor="middle" fill="#222" stroke="#222" stroke-width="0.16" >FP</text>
<line x1="228.20" y1="290.10" x2="267.60" y2="290.10" stroke="#222" stroke-width="0.75"/>
<text transform="translate(246.60,296.30) rotate(0.05)" font-size="4.55" font-weight="bold" text-anchor="middle" fill="#222" stroke="#222" stroke-width="0.16" >HDM</text>
<text transform="translate(194.65,249.80) rotate(-89.95)" font-size="4.5" font-weight="bold" text-anchor="middle" fill="#222" stroke="#222" stroke-width="0.14"><tspan font-style="italic">IL-13</tspan> mRNA expression</text>
<text transform="translate(200.15,249.80) rotate(-89.95)" font-size="4.5" font-weight="bold" text-anchor="middle" fill="#222" stroke="#222" stroke-width="0.14">(Normalized to <tspan font-style="italic">Hprt</tspan>)</text>
<text transform="translate(280.20,214.50) rotate(0.05)" font-size="6.5" font-weight="normal" text-anchor="start" fill="#3c3c3c" stroke="#3c3c3c" stroke-width="0.08" >I.</text>
<line x1="302.80" y1="218.80" x2="302.80" y2="280.80" stroke="#3a3a3a" stroke-width="0.85"/>
<line x1="301.10" y1="280.80" x2="302.80" y2="280.80" stroke="#3a3a3a" stroke-width="0.75"/>
<text transform="translate(300.40,282.30) rotate(0.05)" font-size="4.1" font-weight="bold" text-anchor="end" fill="#222" stroke="#222" stroke-width="0.16" >0</text>
<line x1="301.10" y1="260.13" x2="302.80" y2="260.13" stroke="#3a3a3a" stroke-width="0.75"/>
<text transform="translate(300.40,261.63) rotate(0.05)" font-size="4.1" font-weight="bold" text-anchor="end" fill="#222" stroke="#222" stroke-width="0.16" >2</text>
<line x1="301.10" y1="239.47" x2="302.80" y2="239.47" stroke="#3a3a3a" stroke-width="0.75"/>
<text transform="translate(300.40,240.97) rotate(0.05)" font-size="4.1" font-weight="bold" text-anchor="end" fill="#222" stroke="#222" stroke-width="0.16" >4</text>
<line x1="301.10" y1="218.80" x2="302.80" y2="218.80" stroke="#3a3a3a" stroke-width="0.75"/>
<text transform="translate(300.40,220.30) rotate(0.05)" font-size="4.1" font-weight="bold" text-anchor="end" fill="#222" stroke="#222" stroke-width="0.16" >6</text>
<rect x="305.30" y="270.10" width="10.20" height="10.70" fill="#d7e5e5" stroke="#2a2a2a" stroke-width="0.55"/>
<line x1="310.40" y1="266.00" x2="310.40" y2="270.10" stroke="#333" stroke-width="0.55"/>
<line x1="309.10" y1="266.00" x2="311.70" y2="266.00" stroke="#333" stroke-width="0.55"/>
<circle cx="310.40" cy="267.00" r="0.65" fill="#666" stroke="#333" stroke-width="0.35"/>
<circle cx="309.40" cy="269.00" r="0.65" fill="#666" stroke="#333" stroke-width="0.35"/>
<circle cx="311.40" cy="270.00" r="0.65" fill="#666" stroke="#333" stroke-width="0.35"/>
<rect x="320.20" y="252.80" width="10.20" height="28.00" fill="#e2643f" stroke="#2a2a2a" stroke-width="0.55"/>
<line x1="325.30" y1="245.00" x2="325.30" y2="252.80" stroke="#333" stroke-width="0.55"/>
<line x1="324.00" y1="245.00" x2="326.60" y2="245.00" stroke="#333" stroke-width="0.55"/>
<circle cx="325.30" cy="222.80" r="0.65" fill="#666" stroke="#333" stroke-width="0.35"/>
<circle cx="325.30" cy="237.80" r="0.65" fill="#666" stroke="#333" stroke-width="0.35"/>
<circle cx="325.30" cy="255.00" r="0.65" fill="#666" stroke="#333" stroke-width="0.35"/>
<circle cx="324.30" cy="262.00" r="0.65" fill="#666" stroke="#333" stroke-width="0.35"/>
<circle cx="326.30" cy="266.00" r="0.65" fill="#666" stroke="#333" stroke-width="0.35"/>
<rect x="334.90" y="275.40" width="10.20" height="5.40" fill="#437375" stroke="#2a2a2a" stroke-width="0.55"/>
<circle cx="340.00" cy="263.00" r="0.65" fill="#666" stroke="#333" stroke-width="0.35"/>
<circle cx="340.00" cy="271.00" r="0.65" fill="#666" stroke="#333" stroke-width="0.35"/>
<circle cx="339.00" cy="274.00" r="0.65" fill="#666" stroke="#333" stroke-width="0.35"/>
<circle cx="341.00" cy="274.00" r="0.65" fill="#666" stroke="#333" stroke-width="0.35"/>
<rect x="349.70" y="273.90" width="10.20" height="6.90" fill="#d7e5e5" stroke="#2a2a2a" stroke-width="0.55"/>
<line x1="354.80" y1="269.00" x2="354.80" y2="273.90" stroke="#333" stroke-width="0.55"/>
<line x1="353.50" y1="269.00" x2="356.10" y2="269.00" stroke="#333" stroke-width="0.55"/>
<circle cx="354.80" cy="266.00" r="0.65" fill="#666" stroke="#333" stroke-width="0.35"/>
<circle cx="354.80" cy="272.00" r="0.65" fill="#666" stroke="#333" stroke-width="0.35"/>
<circle cx="353.80" cy="275.00" r="0.65" fill="#666" stroke="#333" stroke-width="0.35"/>
<text transform="translate(354.80,257.30) rotate(0.05)" font-size="3.15" font-weight="normal" text-anchor="middle" fill="#1a1a1a" stroke="#1a1a1a" stroke-width="0.12" >0.0526</text>
<line x1="302.80" y1="280.80" x2="362.30" y2="280.80" stroke="#3a3a3a" stroke-width="0.85"/>
<text transform="translate(310.40,287.40) rotate(0.05)" font-size="4.4" font-weight="bold" text-anchor="middle" fill="#222" stroke="#222" stroke-width="0.16" >CTRL</text>
<text transform="translate(325.30,287.40) rotate(0.05)" font-size="4.4" font-weight="bold" text-anchor="middle" fill="#222" stroke="#222" stroke-width="0.16" >-</text>
<text transform="translate(340.00,287.40) rotate(0.05)" font-size="4.4" font-weight="bold" text-anchor="middle" fill="#222" stroke="#222" stroke-width="0.16" >CycloZ</text>
<text transform="translate(354.80,287.40) rotate(0.05)" font-size="4.4" font-weight="bold" text-anchor="middle" fill="#222" stroke="#222" stroke-width="0.16" >FP</text>
<line x1="320.20" y1="290.10" x2="359.60" y2="290.10" stroke="#222" stroke-width="0.75"/>
<text transform="translate(338.60,296.30) rotate(0.05)" font-size="4.55" font-weight="bold" text-anchor="middle" fill="#222" stroke="#222" stroke-width="0.16" >HDM</text>
<text transform="translate(286.65,249.80) rotate(-89.95)" font-size="4.5" font-weight="bold" text-anchor="middle" fill="#222" stroke="#222" stroke-width="0.14"><tspan font-style="italic">IL-33</tspan> mRNA expression</text>
<text transform="translate(292.45,249.80) rotate(-89.95)" font-size="4.5" font-weight="bold" text-anchor="middle" fill="#222" stroke="#222" stroke-width="0.14">(Normalized to <tspan font-style="italic">Hprt</tspan>)</text>
<text transform="translate(369.70,214.50) rotate(0.05)" font-size="6.5" font-weight="normal" text-anchor="start" fill="#3c3c3c" stroke="#3c3c3c" stroke-width="0.08" >J.</text>
<line x1="394.20" y1="218.80" x2="394.20" y2="280.80" stroke="#3a3a3a" stroke-width="0.85"/>
<line x1="392.50" y1="280.80" x2="394.20" y2="280.80" stroke="#3a3a3a" stroke-width="0.75"/>
<text transform="translate(391.80,282.30) rotate(0.05)" font-size="4.1" font-weight="bold" text-anchor="end" fill="#222" stroke="#222" stroke-width="0.16" >0</text>
<line x1="392.50" y1="268.40" x2="394.20" y2="268.40" stroke="#3a3a3a" stroke-width="0.75"/>
<text transform="translate(391.80,269.90) rotate(0.05)" font-size="4.1" font-weight="bold" text-anchor="end" fill="#222" stroke="#222" stroke-width="0.16" >5</text>
<line x1="392.50" y1="256.00" x2="394.20" y2="256.00" stroke="#3a3a3a" stroke-width="0.75"/>
<text transform="translate(391.80,257.50) rotate(0.05)" font-size="4.1" font-weight="bold" text-anchor="end" fill="#222" stroke="#222" stroke-width="0.16" >10</text>
<line x1="392.50" y1="243.60" x2="394.20" y2="243.60" stroke="#3a3a3a" stroke-width="0.75"/>
<text transform="translate(391.80,245.10) rotate(0.05)" font-size="4.1" font-weight="bold" text-anchor="end" fill="#222" stroke="#222" stroke-width="0.16" >15</text>
<line x1="392.50" y1="231.20" x2="394.20" y2="231.20" stroke="#3a3a3a" stroke-width="0.75"/>
<text transform="translate(391.80,232.70) rotate(0.05)" font-size="4.1" font-weight="bold" text-anchor="end" fill="#222" stroke="#222" stroke-width="0.16" >20</text>
<line x1="392.50" y1="218.80" x2="394.20" y2="218.80" stroke="#3a3a3a" stroke-width="0.75"/>
<text transform="translate(391.80,220.30) rotate(0.05)" font-size="4.1" font-weight="bold" text-anchor="end" fill="#222" stroke="#222" stroke-width="0.16" >25</text>
<rect x="396.70" y="278.30" width="10.20" height="2.50" fill="#ffffff" stroke="#2a2a2a" stroke-width="0.55"/>
<circle cx="400.30" cy="278.00" r="0.65" fill="#666" stroke="#333" stroke-width="0.35"/>
<circle cx="401.80" cy="277.50" r="0.65" fill="#666" stroke="#333" stroke-width="0.35"/>
<circle cx="403.30" cy="278.00" r="0.65" fill="#666" stroke="#333" stroke-width="0.35"/>
<text transform="translate(401.80,273.00) rotate(0.05)" font-size="5.6" font-weight="bold" text-anchor="middle" fill="#1a1a1a" stroke="#1a1a1a" stroke-width="0.24" >***</text>
<rect x="411.60" y="239.00" width="10.20" height="41.80" fill="#e2643f" stroke="#2a2a2a" stroke-width="0.55"/>
<line x1="416.70" y1="235.70" x2="416.70" y2="239.00" stroke="#333" stroke-width="0.55"/>
<line x1="415.40" y1="235.70" x2="418.00" y2="235.70" stroke="#333" stroke-width="0.55"/>
<circle cx="416.70" cy="222.30" r="0.65" fill="#666" stroke="#333" stroke-width="0.35"/>
<circle cx="416.70" cy="232.00" r="0.65" fill="#666" stroke="#333" stroke-width="0.35"/>
<circle cx="415.70" cy="239.00" r="0.65" fill="#666" stroke="#333" stroke-width="0.35"/>
<circle cx="417.70" cy="245.00" r="0.65" fill="#666" stroke="#333" stroke-width="0.35"/>
<circle cx="416.70" cy="266.00" r="0.65" fill="#666" stroke="#333" stroke-width="0.35"/>
<rect x="426.30" y="267.90" width="10.20" height="12.90" fill="#437375" stroke="#2a2a2a" stroke-width="0.55"/>
<line x1="431.40" y1="264.30" x2="431.40" y2="267.90" stroke="#333" stroke-width="0.55"/>
<line x1="430.10" y1="264.30" x2="432.70" y2="264.30" stroke="#333" stroke-width="0.55"/>
<circle cx="431.40" cy="255.70" r="0.65" fill="#666" stroke="#333" stroke-width="0.35"/>
<circle cx="430.40" cy="262.00" r="0.65" fill="#666" stroke="#333" stroke-width="0.35"/>
<circle cx="432.40" cy="263.00" r="0.65" fill="#666" stroke="#333" stroke-width="0.35"/>
<circle cx="431.40" cy="270.00" r="0.65" fill="#666" stroke="#333" stroke-width="0.35"/>
<circle cx="431.40" cy="276.00" r="0.65" fill="#666" stroke="#333" stroke-width="0.35"/>
<text transform="translate(431.40,252.30) rotate(0.05)" font-size="5.6" font-weight="bold" text-anchor="middle" fill="#1a1a1a" stroke="#1a1a1a" stroke-width="0.24" >**</text>
<rect x="441.10" y="274.60" width="10.20" height="6.20" fill="#d7e5e5" stroke="#2a2a2a" stroke-width="0.55"/>
<line x1="446.20" y1="271.00" x2="446.20" y2="274.60" stroke="#333" stroke-width="0.55"/>
<line x1="444.90" y1="271.00" x2="447.50" y2="271.00" stroke="#333" stroke-width="0.55"/>
<circle cx="446.20" cy="267.50" r="0.65" fill="#666" stroke="#333" stroke-width="0.35"/>
<circle cx="445.20" cy="273.00" r="0.65" fill="#666" stroke="#333" stroke-width="0.35"/>
<circle cx="447.20" cy="274.00" r="0.65" fill="#666" stroke="#333" stroke-width="0.35"/>
<text transform="translate(446.20,259.00) rotate(0.05)" font-size="5.6" font-weight="bold" text-anchor="middle" fill="#1a1a1a" stroke="#1a1a1a" stroke-width="0.24" >***</text>
<line x1="394.20" y1="280.80" x2="453.70" y2="280.80" stroke="#3a3a3a" stroke-width="0.85"/>
<text transform="translate(401.80,287.40) rotate(0.05)" font-size="4.4" font-weight="bold" text-anchor="middle" fill="#222" stroke="#222" stroke-width="0.16" >CTRL</text>
<text transform="translate(416.70,287.40) rotate(0.05)" font-size="4.4" font-weight="bold" text-anchor="middle" fill="#222" stroke="#222" stroke-width="0.16" >-</text>
<text transform="translate(431.40,287.40) rotate(0.05)" font-size="4.4" font-weight="bold" text-anchor="middle" fill="#222" stroke="#222" stroke-width="0.16" >CycloZ</text>
<text transform="translate(446.20,287.40) rotate(0.05)" font-size="4.4" font-weight="bold" text-anchor="middle" fill="#222" stroke="#222" stroke-width="0.16" >FP</text>
<line x1="411.60" y1="290.10" x2="451.00" y2="290.10" stroke="#222" stroke-width="0.75"/>
<text transform="translate(430.00,296.30) rotate(0.05)" font-size="4.55" font-weight="bold" text-anchor="middle" fill="#222" stroke="#222" stroke-width="0.16" >HDM</text>
<text transform="translate(378.05,249.80) rotate(-89.95)" font-size="4.5" font-weight="bold" text-anchor="middle" fill="#222" stroke="#222" stroke-width="0.14"><tspan font-style="italic">IL-17a</tspan> mRNA expression</text>
<text transform="translate(383.85,249.80) rotate(-89.95)" font-size="4.5" font-weight="bold" text-anchor="middle" fill="#222" stroke="#222" stroke-width="0.14">(Normalized to <tspan font-style="italic">Hprt</tspan>)</text>
<text transform="translate(462.50,214.50) rotate(0.05)" font-size="6.5" font-weight="normal" text-anchor="start" fill="#3c3c3c" stroke="#3c3c3c" stroke-width="0.08" >K.</text>
<line x1="486.00" y1="218.80" x2="486.00" y2="280.80" stroke="#3a3a3a" stroke-width="0.85"/>
<line x1="484.30" y1="280.80" x2="486.00" y2="280.80" stroke="#3a3a3a" stroke-width="0.75"/>
<text transform="translate(483.60,282.30) rotate(0.05)" font-size="4.1" font-weight="bold" text-anchor="end" fill="#222" stroke="#222" stroke-width="0.16" >0</text>
<line x1="484.30" y1="268.40" x2="486.00" y2="268.40" stroke="#3a3a3a" stroke-width="0.75"/>
<text transform="translate(483.60,269.90) rotate(0.05)" font-size="4.1" font-weight="bold" text-anchor="end" fill="#222" stroke="#222" stroke-width="0.16" >5</text>
<line x1="484.30" y1="256.00" x2="486.00" y2="256.00" stroke="#3a3a3a" stroke-width="0.75"/>
<text transform="translate(483.60,257.50) rotate(0.05)" font-size="4.1" font-weight="bold" text-anchor="end" fill="#222" stroke="#222" stroke-width="0.16" >10</text>
<line x1="484.30" y1="243.60" x2="486.00" y2="243.60" stroke="#3a3a3a" stroke-width="0.75"/>
<text transform="translate(483.60,245.10) rotate(0.05)" font-size="4.1" font-weight="bold" text-anchor="end" fill="#222" stroke="#222" stroke-width="0.16" >15</text>
<line x1="484.30" y1="231.20" x2="486.00" y2="231.20" stroke="#3a3a3a" stroke-width="0.75"/>
<text transform="translate(483.60,232.70) rotate(0.05)" font-size="4.1" font-weight="bold" text-anchor="end" fill="#222" stroke="#222" stroke-width="0.16" >20</text>
<line x1="484.30" y1="218.80" x2="486.00" y2="218.80" stroke="#3a3a3a" stroke-width="0.75"/>
<text transform="translate(483.60,220.30) rotate(0.05)" font-size="4.1" font-weight="bold" text-anchor="end" fill="#222" stroke="#222" stroke-width="0.16" >25</text>
<rect x="488.50" y="278.30" width="10.20" height="2.50" fill="#ffffff" stroke="#2a2a2a" stroke-width="0.55"/>
<circle cx="492.10" cy="278.00" r="0.65" fill="#666" stroke="#333" stroke-width="0.35"/>
<circle cx="493.60" cy="277.50" r="0.65" fill="#666" stroke="#333" stroke-width="0.35"/>
<circle cx="495.10" cy="278.00" r="0.65" fill="#666" stroke="#333" stroke-width="0.35"/>
<text transform="translate(493.60,271.90) rotate(0.05)" font-size="5.6" font-weight="bold" text-anchor="middle" fill="#1a1a1a" stroke="#1a1a1a" stroke-width="0.24" >****</text>
<rect x="503.40" y="231.90" width="10.20" height="48.90" fill="#e2643f" stroke="#2a2a2a" stroke-width="0.55"/>
<line x1="508.50" y1="229.00" x2="508.50" y2="231.90" stroke="#333" stroke-width="0.55"/>
<line x1="507.20" y1="229.00" x2="509.80" y2="229.00" stroke="#333" stroke-width="0.55"/>
<circle cx="508.50" cy="225.50" r="0.65" fill="#666" stroke="#333" stroke-width="0.35"/>
<circle cx="507.50" cy="229.00" r="0.65" fill="#666" stroke="#333" stroke-width="0.35"/>
<circle cx="509.50" cy="230.00" r="0.65" fill="#666" stroke="#333" stroke-width="0.35"/>
<circle cx="508.50" cy="236.00" r="0.65" fill="#666" stroke="#333" stroke-width="0.35"/>
<rect x="518.10" y="258.80" width="10.20" height="22.00" fill="#437375" stroke="#2a2a2a" stroke-width="0.55"/>
<line x1="523.20" y1="253.20" x2="523.20" y2="258.80" stroke="#333" stroke-width="0.55"/>
<line x1="521.90" y1="253.20" x2="524.50" y2="253.20" stroke="#333" stroke-width="0.55"/>
<circle cx="523.20" cy="241.20" r="0.65" fill="#666" stroke="#333" stroke-width="0.35"/>
<circle cx="523.20" cy="256.00" r="0.65" fill="#666" stroke="#333" stroke-width="0.35"/>
<circle cx="522.20" cy="262.00" r="0.65" fill="#666" stroke="#333" stroke-width="0.35"/>
<circle cx="523.20" cy="272.00" r="0.65" fill="#666" stroke="#333" stroke-width="0.35"/>
<text transform="translate(523.20,237.50) rotate(0.05)" font-size="5.6" font-weight="bold" text-anchor="middle" fill="#1a1a1a" stroke="#1a1a1a" stroke-width="0.24" >**</text>
<rect x="532.90" y="259.00" width="10.20" height="21.80" fill="#d7e5e5" stroke="#2a2a2a" stroke-width="0.55"/>
<line x1="538.00" y1="254.00" x2="538.00" y2="259.00" stroke="#333" stroke-width="0.55"/>
<line x1="536.70" y1="254.00" x2="539.30" y2="254.00" stroke="#333" stroke-width="0.55"/>
<circle cx="538.00" cy="245.00" r="0.65" fill="#666" stroke="#333" stroke-width="0.35"/>
<circle cx="539.00" cy="254.00" r="0.65" fill="#666" stroke="#333" stroke-width="0.35"/>
<circle cx="537.00" cy="257.00" r="0.65" fill="#666" stroke="#333" stroke-width="0.35"/>
<circle cx="538.00" cy="262.00" r="0.65" fill="#666" stroke="#333" stroke-width="0.35"/>
<text transform="translate(538.00,240.80) rotate(0.05)" font-size="5.6" font-weight="bold" text-anchor="middle" fill="#1a1a1a" stroke="#1a1a1a" stroke-width="0.24" >****</text>
<line x1="486.00" y1="280.80" x2="545.50" y2="280.80" stroke="#3a3a3a" stroke-width="0.85"/>
<text transform="translate(493.60,287.40) rotate(0.05)" font-size="4.4" font-weight="bold" text-anchor="middle" fill="#222" stroke="#222" stroke-width="0.16" >CTRL</text>
<text transform="translate(508.50,287.40) rotate(0.05)" font-size="4.4" font-weight="bold" text-anchor="middle" fill="#222" stroke="#222" stroke-width="0.16" >-</text>
<text transform="translate(523.20,287.40) rotate(0.05)" font-size="4.4" font-weight="bold" text-anchor="middle" fill="#222" stroke="#222" stroke-width="0.16" >CycloZ</text>
<text transform="translate(538.00,287.40) rotate(0.05)" font-size="4.4" font-weight="bold" text-anchor="middle" fill="#222" stroke="#222" stroke-width="0.16" >FP</text>
<line x1="503.40" y1="290.10" x2="542.80" y2="290.10" stroke="#222" stroke-width="0.75"/>
<text transform="translate(521.80,296.30) rotate(0.05)" font-size="4.55" font-weight="bold" text-anchor="middle" fill="#222" stroke="#222" stroke-width="0.16" >HDM</text>
<text transform="translate(469.85,249.80) rotate(-89.95)" font-size="4.5" font-weight="bold" text-anchor="middle" fill="#222" stroke="#222" stroke-width="0.14"><tspan font-style="italic">Muc5ac</tspan> mRNA expression</text>
<text transform="translate(475.75,249.80) rotate(-89.95)" font-size="4.5" font-weight="bold" text-anchor="middle" fill="#222" stroke="#222" stroke-width="0.14">(Normalized to <tspan font-style="italic">Hprt</tspan>)</text>
<text transform="translate(3.30,109.10) rotate(0.05)" font-size="6.5" font-weight="normal" text-anchor="start" fill="#3c3c3c" stroke="#3c3c3c" stroke-width="0.08" >C.</text>
<defs>
<filter id="blur1" x="-20%" y="-20%" width="140%" height="140%"><feGaussianBlur stdDeviation="0.8"/></filter>
<filter id="blur2" x="-30%" y="-30%" width="160%" height="160%"><feGaussianBlur stdDeviation="1.8"/></filter>
<filter id="blur05" x="-20%" y="-20%" width="140%" height="140%"><feGaussianBlur stdDeviation="0.45"/></filter>
</defs>
<defs><clipPath id="clip00"><rect x="27.80" y="116.40" width="60.10" height="40.00"/></clipPath>
<filter id="tx1" filterUnits="userSpaceOnUse" x="0" y="0" width="550" height="306" color-interpolation-filters="sRGB"><feTurbulence type="fractalNoise" baseFrequency="0.09" numOctaves="1" seed="103" result="w"/><feTurbulence type="turbulence" baseFrequency="0.3" numOctaves="2" seed="3" result="n"/><feDisplacementMap in="n" in2="w" scale="7" xChannelSelector="R" yChannelSelector="G" result="d"/><feColorMatrix in="d" type="matrix" values="0 0 0 0 0.82  0 0 0 0 0.73  0 0 0 0 0.86  -7 0 0 0 1.3"/><feGaussianBlur stdDeviation="0.3"/></filter>
<filter id="tx2" filterUnits="userSpaceOnUse" x="0" y="0" width="550" height="306" color-interpolation-filters="sRGB"><feTurbulence type="fractalNoise" baseFrequency="0.09" numOctaves="1" seed="105" result="w"/><feTurbulence type="fractalNoise" baseFrequency="0.32" numOctaves="2" seed="5" result="n"/><feDisplacementMap in="n" in2="w" scale="7" xChannelSelector="R" yChannelSelector="G" result="d"/><feColorMatrix in="d" type="matrix" values="0 0 0 0 1  0 0 0 0 1  0 0 0 0 1  3.0 0 0 0 -1.55"/><feGaussianBlur stdDeviation="0.35"/></filter>
</defs>
<g clip-path="url(#clip00)">
<rect x="27.80" y="116.40" width="60.10" height="40.00" fill="#e6e0ea"/>
<g transform="translate(27.80,116.40)">
<ellipse cx="45" cy="25" rx="14" ry="14" fill="#e0d6e6" filter="url(#blur2)"/>
<ellipse cx="8" cy="20" rx="8" ry="14" fill="#e0d6e6" filter="url(#blur2)"/>
<path d="M18.5 40 L20.5 28 L16.5 25 L15.5 40 Z" fill="#c0aad8" filter="url(#blur1)"/>
<path d="M27.5 30 L31 26 L33 34 L28 40 Z" fill="#cdbce0" filter="url(#blur1)"/>
</g>
<rect x="27.80" y="116.40" width="60.10" height="40.00" fill="#fff" filter="url(#tx1)" opacity="0.45"/>
<rect x="27.80" y="116.40" width="60.10" height="40.00" fill="#fff" filter="url(#tx2)" opacity="0.45"/>
<g transform="translate(27.80,116.40)">
<path d="M21 0 L29 0 L27.5 10 L26 20 L27 30 L26.5 40 L19.5 40 L20.5 30 L21.5 18 Z" fill="#f3f1f6" opacity="0.65" filter="url(#blur1)"/>
<circle cx="16.8" cy="11.2" r="1.4" fill="#f6f4f8" stroke="#a890c8" stroke-width="0.7"/><circle cx="16.8" cy="11.2" r="0.55" fill="#333"/>
<circle cx="31.8" cy="16.2" r="1.7" fill="#f6f4f8" stroke="#a890c8" stroke-width="0.7"/><circle cx="31.8" cy="16.2" r="0.55" fill="#333"/>
<circle cx="18.2" cy="31" r="1.5" fill="#f6f4f8" stroke="#a890c8" stroke-width="0.7"/><circle cx="18.2" cy="31" r="0.55" fill="#333"/>
<circle cx="33.7" cy="35.5" r="2.1" fill="#f6f4f8" stroke="#a890c8" stroke-width="0.7"/><circle cx="33.7" cy="35.5" r="0.55" fill="#333"/>
<path transform="translate(23.5,7.6) rotate(200) scale(1.0)" d="M-1.3 -1.3 L1.4 0 L-1.3 1.3 Z" fill="#0a0a0a"/>
<path transform="translate(31.6,6.8) rotate(200) scale(1.0)" d="M-1.3 -1.3 L1.4 0 L-1.3 1.3 Z" fill="#0a0a0a"/>
<rect x="53.4" y="37.4" width="2.8" height="0.9" fill="#222"/>
</g>
</g>
<rect x="27.80" y="116.40" width="60.10" height="40.00" fill="none" stroke="#9a9a9a" stroke-width="1.0"/>
<defs><clipPath id="clip10"><rect x="88.20" y="116.40" width="59.40" height="40.00"/></clipPath>
<filter id="tx3" filterUnits="userSpaceOnUse" x="0" y="0" width="550" height="306" color-interpolation-filters="sRGB"><feTurbulence type="fractalNoise" baseFrequency="0.09" numOctaves="1" seed="106" result="w"/><feTurbulence type="turbulence" baseFrequency="0.25" numOctaves="2" seed="6" result="n"/><feDisplacementMap in="n" in2="w" scale="7" xChannelSelector="R" yChannelSelector="G" result="d"/><feColorMatrix in="d" type="matrix" values="0 0 0 0 0.66  0 0 0 0 0.54  0 0 0 0 0.78  -6 0 0 0 1.2"/><feGaussianBlur stdDeviation="0.3"/></filter>
<filter id="tx4" filterUnits="userSpaceOnUse" x="0" y="0" width="550" height="306" color-interpolation-filters="sRGB"><feTurbulence type="fractalNoise" baseFrequency="0.09" numOctaves="1" seed="105" result="w"/><feTurbulence type="fractalNoise" baseFrequency="0.32" numOctaves="2" seed="5" result="n"/><feDisplacementMap in="n" in2="w" scale="7" xChannelSelector="R" yChannelSelector="G" result="d"/><feColorMatrix in="d" type="matrix" values="0 0 0 0 1  0 0 0 0 1  0 0 0 0 1  3.0 0 0 0 -1.6"/><feGaussianBlur stdDeviation="0.35"/></filter>
</defs>
<g clip-path="url(#clip10)">
<rect x="88.20" y="116.40" width="59.40" height="40.00" fill="#cab6dc"/>
<g transform="translate(88.20,116.40)">
<ellipse cx="38" cy="20" rx="9" ry="7" fill="#ad94cc" filter="url(#blur2)"/>
<ellipse cx="32" cy="35" rx="7" ry="5" fill="#b098ce" filter="url(#blur2)"/>
<ellipse cx="57" cy="33" rx="4" ry="4" fill="#a68ac8" filter="url(#blur2)"/>
<ellipse cx="4" cy="33" rx="4" ry="4" fill="#b09ad0" filter="url(#blur2)"/>
<ellipse cx="12" cy="22" rx="8" ry="7" fill="#cdbfe1" filter="url(#blur2)"/>
<ellipse cx="50" cy="12" rx="7" ry="5" fill="#d0c2e2" filter="url(#blur2)"/>
<ellipse cx="48" cy="25" rx="4" ry="3" fill="#d8cce8" filter="url(#blur2)"/>
</g>
<rect x="88.20" y="116.40" width="59.40" height="40.00" fill="#fff" filter="url(#tx3)" opacity="0.3"/>
<rect x="88.20" y="116.40" width="59.40" height="40.00" fill="#fff" filter="url(#tx4)" opacity="0.3"/>
<g transform="translate(88.20,116.40)">
<path d="M0 0 L29.8 0 Q28.5 1.8 27 1.6 Q25 3.2 22 3.0 Q20.5 4.6 18 4.3 Q15.5 5.6 13 5.2 Q10.5 7 8 6.3 Q6 8.2 3.5 7.8 Q1.5 9 0 8.6 Z" fill="#f7f6f9" filter="url(#blur05)"/>
<circle cx="23.4" cy="31.7" r="2.1" fill="#f6f4f8" stroke="#d8d0e6" stroke-width="0.7"/><circle cx="23.4" cy="31.7" r="0.55" fill="#333"/>
<path transform="translate(38.6,16.2) rotate(200) scale(1.0)" d="M-1.3 -1.3 L1.4 0 L-1.3 1.3 Z" fill="#0a0a0a"/>
<circle cx="34.2" cy="24.8" r="0.7" fill="#333"/>
<rect x="53.4" y="37.4" width="2.8" height="0.9" fill="#222"/>
</g>
</g>
<rect x="88.20" y="116.40" width="59.40" height="40.00" fill="none" stroke="#9a9a9a" stroke-width="1.0"/>
<defs><clipPath id="clip20"><rect x="147.90" y="116.40" width="59.10" height="40.00"/></clipPath>
<filter id="tx5" filterUnits="userSpaceOnUse" x="0" y="0" width="550" height="306" color-interpolation-filters="sRGB"><feTurbulence type="fractalNoise" baseFrequency="0.09" numOctaves="1" seed="107" result="w"/><feTurbulence type="turbulence" baseFrequency="0.28" numOctaves="2" seed="7" result="n"/><feDisplacementMap in="n" in2="w" scale="7" xChannelSelector="R" yChannelSelector="G" result="d"/><feColorMatrix in="d" type="matrix" values="0 0 0 0 0.68  0 0 0 0 0.56  0 0 0 0 0.8  -6 0 0 0 1.25"/><feGaussianBlur stdDeviation="0.3"/></filter>
<filter id="tx6" filterUnits="userSpaceOnUse" x="0" y="0" width="550" height="306" color-interpolation-filters="sRGB"><feTurbulence type="fractalNoise" baseFrequency="0.09" numOctaves="1" seed="107" result="w"/><feTurbulence type="fractalNoise" baseFrequency="0.22" numOctaves="2" seed="7" result="n"/><feDisplacementMap in="n" in2="w" scale="7" xChannelSelector="R" yChannelSelector="G" result="d"/><feColorMatrix in="d" type="matrix" values="0 0 0 0 1  0 0 0 0 1  0 0 0 0 1  3.2 0 0 0 -1.5"/><feGaussianBlur stdDeviation="0.35"/></filter>
</defs>
<g clip-path="url(#clip20)">
<rect x="147.90" y="116.40" width="59.10" height="40.00" fill="#dacee6"/>
<g transform="translate(147.90,116.40)">
<ellipse cx="29" cy="19" rx="12" ry="8" fill="#c2aed9" filter="url(#blur2)"/>
<ellipse cx="12" cy="31" rx="8" ry="5" fill="#cdbfe0" filter="url(#blur2)"/>
<ellipse cx="50" cy="24" rx="6" ry="8" fill="#cabbdf" filter="url(#blur2)"/>
<ellipse cx="30" cy="36" rx="8" ry="3" fill="#d0c4e3" filter="url(#blur2)"/>
</g>
<rect x="147.90" y="116.40" width="59.10" height="40.00" fill="#fff" filter="url(#tx5)" opacity="0.45"/>
<rect x="147.90" y="116.40" width="59.10" height="40.00" fill="#fff" filter="url(#tx6)" opacity="0.65"/>
<g transform="translate(147.90,116.40)">
<circle cx="53" cy="12" r="2.3" fill="#f4f1f7" stroke="#a690c8" stroke-width="1.0"/>
<circle cx="46" cy="32.4" r="2.1" fill="#f4f1f7" stroke="#a690c8" stroke-width="1.0"/>
<circle cx="8.6" cy="19.7" r="1.6" fill="none" stroke="#b09cd0" stroke-width="0.9"/>
<path d="M35.5 23 Q37 19.5 41 18.4" stroke="#f6f4f8" stroke-width="1.2" fill="none"/>
<path d="M31 26 Q35 27 38 24" stroke="#b8a4d4" stroke-width="0.9" fill="none"/>
<path transform="translate(20.6,12.4) rotate(200) scale(1.0)" d="M-1.3 -1.3 L1.4 0 L-1.3 1.3 Z" fill="#0a0a0a"/>
<path transform="translate(30.4,10.7) rotate(200) scale(1.0)" d="M-1.3 -1.3 L1.4 0 L-1.3 1.3 Z" fill="#0a0a0a"/>
<circle cx="41" cy="17.5" r="0.55" fill="#333"/>
<rect x="53.4" y="37.4" width="2.8" height="0.9" fill="#222"/>
</g>
</g>
<rect x="147.90" y="116.40" width="59.10" height="40.00" fill="none" stroke="#9a9a9a" stroke-width="1.0"/>
<defs><clipPath id="clip30"><rect x="207.30" y="116.40" width="59.50" height="40.00"/></clipPath>
<filter id="tx7" filterUnits="userSpaceOnUse" x="0" y="0" width="550" height="306" color-interpolation-filters="sRGB"><feTurbulence type="fractalNoise" baseFrequency="0.09" numOctaves="1" seed="109" result="w"/><feTurbulence type="turbulence" baseFrequency="0.22" numOctaves="2" seed="9" result="n"/><feDisplacementMap in="n" in2="w" scale="7" xChannelSelector="R" yChannelSelector="G" result="d"/><feColorMatrix in="d" type="matrix" values="0 0 0 0 0.6  0 0 0 0 0.48  0 0 0 0 0.78  -6 0 0 0 1.2"/><feGaussianBlur stdDeviation="0.3"/></filter>
<filter id="tx8" filterUnits="userSpaceOnUse" x="0" y="0" width="550" height="306" color-interpolation-filters="sRGB"><feTurbulence type="fractalNoise" baseFrequency="0.09" numOctaves="1" seed="109" result="w"/><feTurbulence type="fractalNoise" baseFrequency="0.32" numOctaves="2" seed="9" result="n"/><feDisplacementMap in="n" in2="w" scale="7" xChannelSelector="R" yChannelSelector="G" result="d"/><feColorMatrix in="d" type="matrix" values="0 0 0 0 1  0 0 0 0 1  0 0 0 0 1  3.0 0 0 0 -1.55"/><feGaussianBlur stdDeviation="0.35"/></filter>
</defs>
<g clip-path="url(#clip30)">
<rect x="207.30" y="116.40" width="59.50" height="40.00" fill="#e6e0ec"/>
<g transform="translate(207.30,116.40)">
<ellipse cx="22" cy="10" rx="6" ry="6" fill="#c6b2dc" filter="url(#blur1)"/>
<ellipse cx="30" cy="35" rx="5" ry="4" fill="#bea8d8" filter="url(#blur1)"/>
<ellipse cx="13" cy="28" rx="9" ry="8" fill="#dcd4e9" filter="url(#blur2)"/>
<ellipse cx="50" cy="8" rx="9" ry="5" fill="#d8cfe8" filter="url(#blur2)"/>
<path d="M13 20 Q15 28 13 36" stroke="#c4b0dc" stroke-width="1.4" fill="none" filter="url(#blur05)"/>
</g>
<rect x="207.30" y="116.40" width="59.50" height="40.00" fill="#fff" filter="url(#tx7)" opacity="0.4"/>
<rect x="207.30" y="116.40" width="59.50" height="40.00" fill="#fff" filter="url(#tx8)" opacity="0.4"/>
<g transform="translate(207.30,116.40)">
<path d="M36 27.5 L48 21 L60 12.5 L60 23 L51 30 L45 37 L38 40 L33 40 Z" fill="#f4f2f7" filter="url(#blur05)"/>
<path d="M35 27 Q42 23 48 20 T60 11" stroke="#6c48a8" stroke-width="1.5" fill="none"/>
<path d="M44 41 Q50 33 60 25" stroke="#9c80c4" stroke-width="0.9" fill="none"/>
<path d="M29 0 Q31 5 36 6 Q45 4 52 1" stroke="#a48cc8" stroke-width="0.8" fill="none"/>
<path d="M14 4 Q18 1 22 2" stroke="#a48cc8" stroke-width="0.8" fill="none"/>
<ellipse cx="1.4" cy="16.2" rx="1.8" ry="2.2" fill="#7c58b4" filter="url(#blur05)"/>
<path transform="translate(18.6,5.6) rotate(200) scale(1.0)" d="M-1.3 -1.3 L1.4 0 L-1.3 1.3 Z" fill="#0a0a0a"/>
<path transform="translate(30.6,31.6) rotate(200) scale(1.0)" d="M-1.3 -1.3 L1.4 0 L-1.3 1.3 Z" fill="#0a0a0a"/>
<circle cx="39.6" cy="1.6" r="0.55" fill="#333"/>
<rect x="53.4" y="37.4" width="2.8" height="0.9" fill="#222"/>
</g>
</g>
<rect x="207.30" y="116.40" width="59.50" height="40.00" fill="none" stroke="#9a9a9a" stroke-width="1.0"/>
<defs><clipPath id="clip01"><rect x="27.80" y="157.30" width="60.10" height="36.00"/></clipPath>
<filter id="tx9" filterUnits="userSpaceOnUse" x="0" y="0" width="550" height="306" color-interpolation-filters="sRGB"><feTurbulence type="fractalNoise" baseFrequency="0.09" numOctaves="1" seed="121" result="w"/><feTurbulence type="turbulence" baseFrequency="0.16" numOctaves="2" seed="21" result="n"/><feDisplacementMap in="n" in2="w" scale="7" xChannelSelector="R" yChannelSelector="G" result="d"/><feColorMatrix in="d" type="matrix" values="0 0 0 0 0.66  0 0 0 0 0.4  0 0 0 0 0.74  -9 0 0 0 1.4"/><feGaussianBlur stdDeviation="0.3"/></filter>
<filter id="tx10" filterUnits="userSpaceOnUse" x="0" y="0" width="550" height="306" color-interpolation-filters="sRGB"><feTurbulence type="fractalNoise" baseFrequency="0.09" numOctaves="1" seed="122" result="w"/><feTurbulence type="fractalNoise" baseFrequency="0.3" numOctaves="2" seed="22" result="n"/><feDisplacementMap in="n" in2="w" scale="7" xChannelSelector="R" yChannelSelector="G" result="d"/><feColorMatrix in="d" type="matrix" values="0 0 0 0 1  0 0 0 0 1  0 0 0 0 1  3.0 0 0 0 -1.5"/><feGaussianBlur stdDeviation="0.35"/></filter>
</defs>
<g clip-path="url(#clip01)">
<rect x="27.80" y="157.30" width="60.10" height="36.00" fill="#f3f0f5"/>
<g transform="translate(27.80,157.30)">
<ellipse cx="30" cy="4" rx="30" ry="5" fill="#eae2ee" filter="url(#blur2)"/>
</g>
<rect x="27.80" y="157.30" width="60.10" height="36.00" fill="#fff" filter="url(#tx9)" opacity="0.8"/>
<rect x="27.80" y="157.30" width="60.10" height="36.00" fill="#fff" filter="url(#tx10)" opacity="0.3"/>
<g transform="translate(27.80,157.30)">
<path d="M5 14 Q10 12 14 17 Q19 24 18 32 Q12 34 7 28 Q4 22 5 14 Z" fill="none" stroke="#a467b8" stroke-width="1.1"/>
<path d="M15 10 Q22 15 25 22 Q27 24 24 24 Q19 18 14 13 Z" fill="none" stroke="#a467b8" stroke-width="0.9"/>
<path d="M29 24 L37 6 L38 7 L31 24 Z" fill="none" stroke="#b078c0" stroke-width="0.8"/>
<path d="M35 36 L43 15 L51 8 L53 9 L45 18 L38 36 Z" fill="none" stroke="#a467b8" stroke-width="0.9"/>
<path d="M3 30 Q10 36 20 36" stroke="#b27cc2" stroke-width="0.8" fill="none"/>
<path d="M33 22 Q38 12 44.5 2.7 M43.5 18 Q47 10 51.8 2.7 M48.4 18 Q51 10 54.7 2.7" stroke="#a468bc" stroke-width="1.1" fill="none" opacity="0.85"/>
<path d="M40 36 Q45 28 50 20" stroke="#b07cc4" stroke-width="0.9" fill="none"/>
</g>
</g>
<rect x="27.80" y="157.30" width="60.10" height="36.00" fill="none" stroke="#9a9a9a" stroke-width="1.0"/>
<defs><clipPath id="clip11"><rect x="88.20" y="157.30" width="59.40" height="36.00"/></clipPath>
<filter id="tx11" filterUnits="userSpaceOnUse" x="0" y="0" width="550" height="306" color-interpolation-filters="sRGB"><feTurbulence type="fractalNoise" baseFrequency="0.09" numOctaves="1" seed="123" result="w"/><feTurbulence type="turbulence" baseFrequency="0.2" numOctaves="2" seed="23" result="n"/><feDisplacementMap in="n" in2="w" scale="7" xChannelSelector="R" yChannelSelector="G" result="d"/><feColorMatrix in="d" type="matrix" values="0 0 0 0 0.98  0 0 0 0 0.95  0 0 0 0 0.98  -8 0 0 0 1.3"/><feGaussianBlur stdDeviation="0.3"/></filter>
<filter id="tx12" filterUnits="userSpaceOnUse" x="0" y="0" width="550" height="306" color-interpolation-filters="sRGB"><feTurbulence type="fractalNoise" baseFrequency="0.09" numOctaves="1" seed="123" result="w"/><feTurbulence type="fractalNoise" baseFrequency="0.32" numOctaves="2" seed="23" result="n"/><feDisplacementMap in="n" in2="w" scale="7" xChannelSelector="R" yChannelSelector="G" result="d"/><feColorMatrix in="d" type="matrix" values="0 0 0 0 1  0 0 0 0 1  0 0 0 0 1  3.0 0 0 0 -1.6"/><feGaussianBlur stdDeviation="0.35"/></filter>
<filter id="tx13" filterUnits="userSpaceOnUse" x="0" y="0" width="550" height="306" color-interpolation-filters="sRGB"><feTurbulence type="fractalNoise" baseFrequency="0.09" numOctaves="1" seed="129" result="w"/><feTurbulence type="fractalNoise" baseFrequency="0.4" numOctaves="2" seed="29" result="n"/><feDisplacementMap in="n" in2="w" scale="7" xChannelSelector="R" yChannelSelector="G" result="d"/><feColorMatrix in="d" type="matrix" values="0 0 0 0 0.45  0 0 0 0 0.12  0 0 0 0 0.52  0 3.0 0 0 -1.5"/><feGaussianBlur stdDeviation="0.35"/></filter>
</defs>
<g clip-path="url(#clip11)">
<rect x="88.20" y="157.30" width="59.40" height="36.00" fill="#c084c8"/>
<g transform="translate(88.20,157.30)">
<rect x="-2" y="27" width="46" height="14" fill="#d8b6dc" filter="url(#blur2)"/>
<ellipse cx="40" cy="8" rx="9" ry="8" fill="#b070b8" filter="url(#blur2)"/>
<ellipse cx="8" cy="14" rx="8" ry="10" fill="#b064b8" filter="url(#blur2)"/>
<ellipse cx="56" cy="6" rx="5" ry="6" fill="#b872be" filter="url(#blur2)"/>
<ellipse cx="38" cy="26" rx="6" ry="5" fill="#c690cc" filter="url(#blur2)"/>
<ellipse cx="19.2" cy="14.2" rx="11" ry="7.9" fill="none" stroke="#86308f" stroke-width="3.6" filter="url(#blur05)"/>
<ellipse cx="50.9" cy="22.4" rx="3.8" ry="5.3" fill="none" stroke="#8a3494" stroke-width="2.6" filter="url(#blur05)"/>
</g>
<rect x="88.20" y="157.30" width="59.40" height="36.00" fill="#fff" filter="url(#tx11)" opacity="0.4"/>
<rect x="88.20" y="157.30" width="59.40" height="36.00" fill="#fff" filter="url(#tx12)" opacity="0.3"/>
<rect x="88.20" y="157.30" width="59.40" height="36.00" fill="#fff" filter="url(#tx13)" opacity="0.5"/>
<g transform="translate(88.20,157.30)">
<path d="M10.8 13 Q12.5 8.6 19.5 8.7 Q26.8 9.3 27.7 14 Q27 19.2 20 19.8 Q12 19.6 10.8 13 Z" fill="#fbfafb" filter="url(#blur05)"/>
<ellipse cx="50.9" cy="22.4" rx="2.1" ry="3.4" fill="#faf8fa" filter="url(#blur05)"/>
</g>
</g>
<rect x="88.20" y="157.30" width="59.40" height="36.00" fill="none" stroke="#9a9a9a" stroke-width="1.0"/>
<defs><clipPath id="clip21"><rect x="147.90" y="157.30" width="59.10" height="36.00"/></clipPath>
<filter id="tx14" filterUnits="userSpaceOnUse" x="0" y="0" width="550" height="306" color-interpolation-filters="sRGB"><feTurbulence type="fractalNoise" baseFrequency="0.09" numOctaves="1" seed="131" result="w"/><feTurbulence type="turbulence" baseFrequency="0.2" numOctaves="2" seed="31" result="n"/><feDisplacementMap in="n" in2="w" scale="7" xChannelSelector="R" yChannelSelector="G" result="d"/><feColorMatrix in="d" type="matrix" values="0 0 0 0 0.98  0 0 0 0 0.95  0 0 0 0 0.98  -8 0 0 0 1.3"/><feGaussianBlur stdDeviation="0.3"/></filter>
<filter id="tx15" filterUnits="userSpaceOnUse" x="0" y="0" width="550" height="306" color-interpolation-filters="sRGB"><feTurbulence type="fractalNoise" baseFrequency="0.09" numOctaves="1" seed="131" result="w"/><feTurbulence type="fractalNoise" baseFrequency="0.32" numOctaves="2" seed="31" result="n"/><feDisplacementMap in="n" in2="w" scale="7" xChannelSelector="R" yChannelSelector="G" result="d"/><feColorMatrix in="d" type="matrix" values="0 0 0 0 1  0 0 0 0 1  0 0 0 0 1  3.0 0 0 0 -1.55"/><feGaussianBlur stdDeviation="0.35"/></filter>
<filter id="tx16" filterUnits="userSpaceOnUse" x="0" y="0" width="550" height="306" color-interpolation-filters="sRGB"><feTurbulence type="fractalNoise" baseFrequency="0.09" numOctaves="1" seed="137" result="w"/><feTurbulence type="fractalNoise" baseFrequency="0.4" numOctaves="2" seed="37" result="n"/><feDisplacementMap in="n" in2="w" scale="7" xChannelSelector="R" yChannelSelector="G" result="d"/><feColorMatrix in="d" type="matrix" values="0 0 0 0 0.45  0 0 0 0 0.12  0 0 0 0 0.52  0 3.0 0 0 -1.5"/><feGaussianBlur stdDeviation="0.35"/></filter>
</defs>
<g clip-path="url(#clip21)">
<rect x="147.90" y="157.30" width="59.10" height="36.00" fill="#bc78c4"/>
<g transform="translate(147.90,157.30)">
<path d="M38 23 Q46 19 58 20 L62 31 L40 31 Q36 27 38 23 Z" fill="#e0c8e6" filter="url(#blur1)"/>
<path d="M-2 11 Q4 13 7 18 L8 27 L-2 27 Z" fill="#ead8ee" filter="url(#blur1)"/>
<path d="M-2 28 L6 28 L6 38 L-2 38 Z" fill="#d8b8de" filter="url(#blur1)"/>
<path d="M40 -2 L62 -2 L62 14 L46 12 Z" fill="#d0aed8" filter="url(#blur2)"/>
<path d="M25.5 17.5 L31 12.5 L34.5 12 L33 17 L29 19.5 Z" fill="none" stroke="#84308e" stroke-width="3.4" filter="url(#blur05)"/>
<ellipse cx="32" cy="30" rx="4.5" ry="6" fill="#8e3a98" filter="url(#blur1)"/>
<ellipse cx="18.1" cy="7.5" rx="3.6" ry="4.4" fill="none" stroke="#943ea0" stroke-width="2.0" filter="url(#blur05)"/>
<ellipse cx="14" cy="24" rx="6" ry="8" fill="#a858b2" filter="url(#blur2)"/>
</g>
<rect x="147.90" y="157.30" width="59.10" height="36.00" fill="#fff" filter="url(#tx14)" opacity="0.45"/>
<rect x="147.90" y="157.30" width="59.10" height="36.00" fill="#fff" filter="url(#tx15)" opacity="0.4"/>
<rect x="147.90" y="157.30" width="59.10" height="36.00" fill="#fff" filter="url(#tx16)" opacity="0.45"/>
<g transform="translate(147.90,157.30)">
<ellipse cx="18.1" cy="7.5" rx="2.2" ry="3.0" fill="#faf8fa" filter="url(#blur05)"/>
<path d="M25.5 17.5 L31 12.5 L34.5 12 L33 17 L29 19.5 Z" fill="#faf8fa" filter="url(#blur05)"/>
</g>
</g>
<rect x="147.90" y="157.30" width="59.10" height="36.00" fill="none" stroke="#9a9a9a" stroke-width="1.0"/>
<defs><clipPath id="clip31"><rect x="207.30" y="157.30" width="59.50" height="36.00"/></clipPath>
<filter id="tx17" filterUnits="userSpaceOnUse" x="0" y="0" width="550" height="306" color-interpolation-filters="sRGB"><feTurbulence type="fractalNoise" baseFrequency="0.09" numOctaves="1" seed="141" result="w"/><feTurbulence type="turbulence" baseFrequency="0.18" numOctaves="2" seed="41" result="n"/><feDisplacementMap in="n" in2="w" scale="7" xChannelSelector="R" yChannelSelector="G" result="d"/><feColorMatrix in="d" type="matrix" values="0 0 0 0 0.6  0 0 0 0 0.3  0 0 0 0 0.68  -8 0 0 0 1.4"/><feGaussianBlur stdDeviation="0.3"/></filter>
<filter id="tx18" filterUnits="userSpaceOnUse" x="0" y="0" width="550" height="306" color-interpolation-filters="sRGB"><feTurbulence type="fractalNoise" baseFrequency="0.09" numOctaves="1" seed="145" result="w"/><feTurbulence type="fractalNoise" baseFrequency="0.35" numOctaves="2" seed="45" result="n"/><feDisplacementMap in="n" in2="w" scale="7" xChannelSelector="R" yChannelSelector="G" result="d"/><feColorMatrix in="d" type="matrix" values="0 0 0 0 0.55  0 0 0 0 0.25  0 0 0 0 0.7  0 3.0 0 0 -1.5"/><feGaussianBlur stdDeviation="0.35"/></filter>
<filter id="tx19" filterUnits="userSpaceOnUse" x="0" y="0" width="550" height="306" color-interpolation-filters="sRGB"><feTurbulence type="fractalNoise" baseFrequency="0.09" numOctaves="1" seed="147" result="w"/><feTurbulence type="fractalNoise" baseFrequency="0.3" numOctaves="2" seed="47" result="n"/><feDisplacementMap in="n" in2="w" scale="7" xChannelSelector="R" yChannelSelector="G" result="d"/><feColorMatrix in="d" type="matrix" values="0 0 0 0 1  0 0 0 0 1  0 0 0 0 1  3.0 0 0 0 -1.5"/><feGaussianBlur stdDeviation="0.35"/></filter>
</defs>
<g clip-path="url(#clip31)">
<rect x="207.30" y="157.30" width="59.50" height="36.00" fill="#d6bcde"/>
<g transform="translate(207.30,157.30)">
<ellipse cx="30" cy="16" rx="9" ry="16" fill="#c496ca" filter="url(#blur2)"/>
<ellipse cx="3" cy="18" rx="4" ry="14" fill="#cfa8d4" filter="url(#blur2)"/>
</g>
<rect x="207.30" y="157.30" width="59.50" height="36.00" fill="#fff" filter="url(#tx17)" opacity="0.75"/>
<rect x="207.30" y="157.30" width="59.50" height="36.00" fill="#fff" filter="url(#tx18)" opacity="0.5"/>
<rect x="207.30" y="157.30" width="59.50" height="36.00" fill="#fff" filter="url(#tx19)" opacity="0.45"/>
<g transform="translate(207.30,157.30)">
<path d="M8.5 4 Q12 2 14.5 4.5 L16.5 16 Q17.5 26 13 28.5 Q9 28 8.5 20 Z" fill="#f6f3f7" stroke="#9448a4" stroke-width="1.3"/>
<ellipse cx="46" cy="10.8" rx="5.6" ry="6.6" transform="rotate(30 46 10.8)" fill="#f6f3f7" stroke="#9448a4" stroke-width="1.3"/>
<path d="M19 0 Q23 16 29 36 M24 0 Q27 14 33 30 M31 2 Q35 16 30 36 M37 0 Q34 12 36 36" stroke="#9848a6" stroke-width="1.0" fill="none"/>
<path d="M2.8 4 Q3.5 20 2.5 36" stroke="#a050ac" stroke-width="0.9" fill="none"/>
<path d="M55 0 Q59 10 57 22" stroke="#a050ac" stroke-width="0.9" fill="none"/>
<ellipse cx="47.7" cy="26" rx="2.6" ry="2.2" fill="#f6f0f7" stroke="#b070bc" stroke-width="0.7"/>
</g>
</g>
<rect x="207.30" y="157.30" width="59.50" height="36.00" fill="none" stroke="#9a9a9a" stroke-width="1.0"/>
<text transform="translate(57.80,114.00) rotate(0.05)" font-size="4.1" font-weight="bold" text-anchor="middle" fill="#222" stroke="#222" stroke-width="0.16" >CTRL</text>
<text transform="translate(117.90,114.00) rotate(0.05)" font-size="4.1" font-weight="bold" text-anchor="middle" fill="#222" stroke="#222" stroke-width="0.16" >-</text>
<text transform="translate(177.40,114.00) rotate(0.05)" font-size="4.1" font-weight="bold" text-anchor="middle" fill="#222" stroke="#222" stroke-width="0.16" >CycloZ</text>
<text transform="translate(237.00,114.00) rotate(0.05)" font-size="4.1" font-weight="bold" text-anchor="middle" fill="#222" stroke="#222" stroke-width="0.16" >FP</text>
<line x1="88.5" y1="108.4" x2="266.8" y2="108.4" stroke="#333" stroke-width="0.7"/>
<text transform="translate(177.50,106.60) rotate(0.05)" font-size="4.1" font-weight="bold" text-anchor="middle" fill="#222" stroke="#222" stroke-width="0.16" >HDM</text>
<text transform="translate(17.50,138.00) rotate(0.05)" font-size="4.1" font-weight="bold" text-anchor="middle" fill="#222" stroke="#222" stroke-width="0.16" >H&amp;E</text>
<text transform="translate(17.50,176.30) rotate(0.05)" font-size="4.1" font-weight="bold" text-anchor="middle" fill="#222" stroke="#222" stroke-width="0.16" >PAS</text>
</svg>
</body></html>
